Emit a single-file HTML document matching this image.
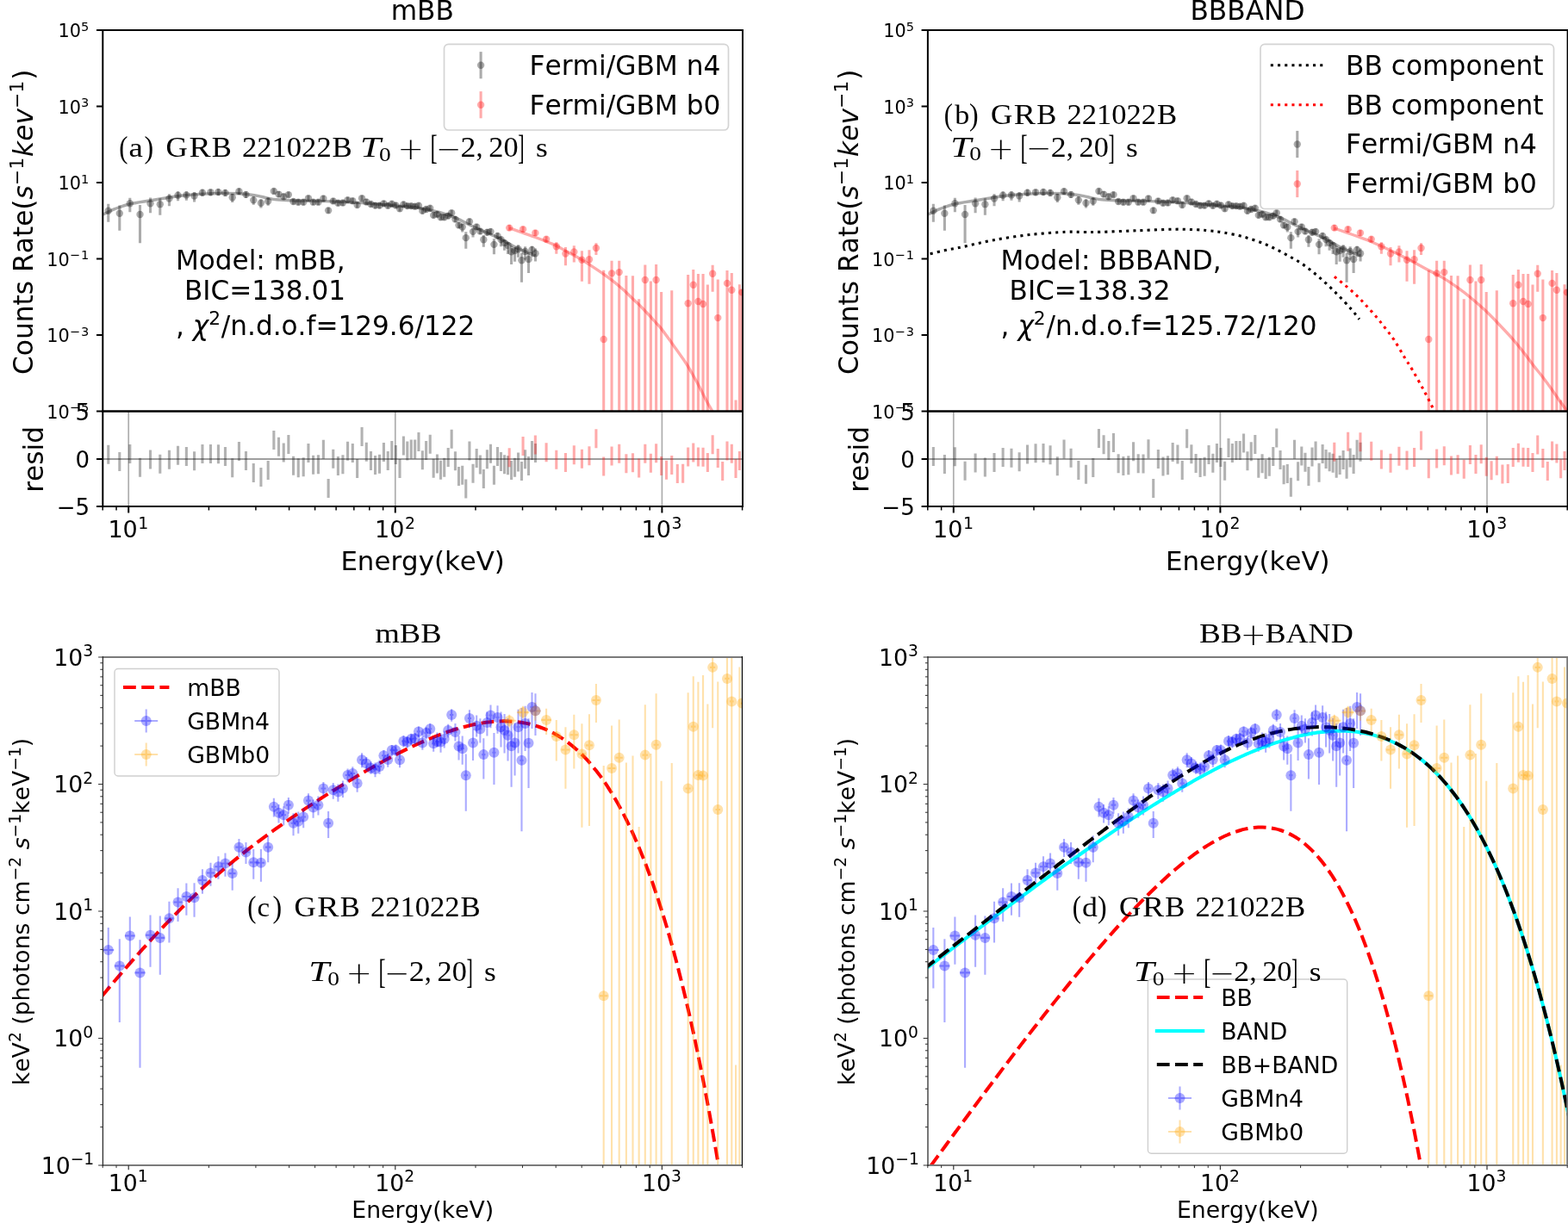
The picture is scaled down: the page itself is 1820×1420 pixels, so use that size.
<!DOCTYPE html>
<html lang="en"><head><meta charset="utf-8"><title>GRB 221022B spectral fits</title>
<style>html,body{margin:0;padding:0;background:#fff;overflow:hidden}svg{display:block}text{font-family:"DejaVu Sans","Liberation Sans",sans-serif;fill:#000;font-kerning:none}.sf text,text.sf{font-family:"Liberation Serif","DejaVu Serif",serif}</style>
</head><body>
<svg xmlns="http://www.w3.org/2000/svg" width="1820" height="1420" viewBox="0 0 1820 1420">
<rect width="1820" height="1420" fill="#fff"/>
<clipPath id="clipA"><rect x="119.3" y="35" width="742.7" height="442.5"/></clipPath>
<clipPath id="cliprA"><rect x="119.3" y="477.5" width="742.7" height="110.5"/></clipPath>
<g clip-path="url(#clipA)">
<path d="M119.7 248.9C121.97 247.85 128.25 244.58 133.3 242.6C138.35 240.62 143.05 238.63 150 237C156.95 235.37 167.35 234.08 175 232.8C182.65 231.52 188.93 230.35 195.9 229.3C202.87 228.25 209.83 227.2 216.8 226.5C223.77 225.8 230.73 225.45 237.7 225.1C244.67 224.75 251.98 224.45 258.6 224.4C265.22 224.35 272.17 224.53 277.4 224.8C282.63 225.07 286.18 225.53 290 226C293.82 226.47 296.97 226.97 300.3 227.6C303.63 228.23 306.52 229.1 310 229.8C313.48 230.5 316.55 231.3 321.2 231.8C325.85 232.3 328.35 232.5 337.9 232.8C347.45 233.1 364.77 233.13 378.5 233.6C392.23 234.07 406.38 234.68 420.3 235.6C434.22 236.52 451.22 238.17 462 239.1C472.78 240.03 477 239.97 485 241.2C493 242.43 502.63 244.52 510 246.5C517.37 248.48 523.3 250.65 529.2 253.1C535.1 255.55 539.23 258.25 545.4 261.2C551.57 264.15 560.43 268.18 566.2 270.8C571.97 273.42 574.88 274.33 580 276.9C585.12 279.47 591.52 283.5 596.9 286.2C602.28 288.9 608.2 291.32 612.3 293.1C616.4 294.88 619.97 296.27 621.5 296.9" stroke="#000" stroke-opacity="0.33" stroke-width="3.4" fill="none"/>
<path d="M591.2 264.6C593.85 265.57 602.07 268.58 607.1 270.4C612.13 272.22 616.9 273.83 621.4 275.5C625.9 277.17 630.03 278.75 634.1 280.4C638.17 282.05 642.08 283.6 645.8 285.4C649.52 287.2 652.98 289.35 656.4 291.2C659.82 293.05 663.13 294.75 666.3 296.5C669.47 298.25 672.45 299.93 675.4 301.7C678.35 303.47 679.78 304.33 684 307.1C688.22 309.87 696.37 315.3 700.7 318.3C705.03 321.3 707 322.78 710 325.1C713 327.42 715.88 329.82 718.7 332.2C721.52 334.58 724.27 336.92 726.9 339.4C729.53 341.88 732.03 344.73 734.5 347.1C736.97 349.47 739.32 351.27 741.7 353.6C744.08 355.93 746.52 358.7 748.8 361.1C751.08 363.5 753.27 365.67 755.4 368C757.53 370.33 759.57 372.83 761.6 375.1C763.63 377.37 764.58 377.75 767.6 381.6C770.62 385.45 775.52 392.37 779.7 398.2C783.88 404.03 789.55 412.05 792.7 416.6C795.85 421.15 796.58 422.22 798.6 425.5C800.62 428.78 802.83 432.82 804.8 436.3C806.77 439.78 808.52 442.82 810.4 446.4C812.28 449.98 814.27 454.2 816.1 457.8C817.93 461.4 819.7 464.87 821.4 468C823.1 471.13 824.87 473.93 826.3 476.6C827.73 479.27 829.38 482.77 830 484" stroke="#f00" stroke-opacity="0.33" stroke-width="3.4" fill="none"/>
<path d="M125.75 236.75V257.73M138.8 238.42V267.65M150.81 229.75V246.14M162.5 238.1V282.26M174.51 229.44V247.29M185.78 230.27V249.69M196.43 225.37V239.36M206.55 222.24V233.2M216.37 222.13V232.68M225.55 223.18V234.45M234.95 219.84V227.66M244.45 219.63V227.14M253.43 219.31V226.93M261.47 220.04V227.98M269.71 224.85V234.97M277.44 218.58V225.89M285.48 222.13V230.07M294.25 227.98V237.79M302.91 231.32V241.55M311.18 229.23V238.63M317.86 218.42V225.42M323.5 222.08V229.08M329.24 224.69V231.69M334.88 222.6V229.6M340.52 230.43V237.43M346.26 231.26V238.26M352.21 231.26V238.26M357.95 226.77V233.77M363.59 231.16V238.16M369.43 231.16V238.16M375.38 226.98V233.98M381.13 240.87V247.87M386.76 229.91V236.91M392.4 232.2V239.2M397.93 231.99V238.99M403.57 228.65V235.65M409.31 229.7V236.7M414.64 234.6V241.6M420.07 226.77V233.77M425.28 230.95V237.95M430.5 233.56V240.56M435.52 235.13V242.13M440.53 235.13V242.13M445.43 232.83V239.83M450.24 235.33V242.33M454.83 233.25V240.25M459.42 234.92V241.92M464.02 238.78V245.78M468.4 233.87V240.87M472.78 235.65V242.65M477.27 235.65V242.65M481.66 236.17V243.17M485.96 235.13V242.13M490.35 241.39V248.39M494.63 239.51V246.51M499.22 238.26V245.26M503.19 246.4V253.4M507.47 245.36V252.36M511.54 248.7V255.7M515.71 248.7V255.7M520.2 247.13V254.13M524.17 243.81V250.81M528.45 251.12V258.12M532.52 258.04V265.04M536.7 259.96V269.62M540.77 269.23V288.85M544.94 253.81V260.81M549.02 265.35V275.38M553.19 259.96V266.96M557.37 264.96V271.96M561.33 273.08V286.77M565.41 266.12V273.85M569.48 265.35V272.35M573.44 277.31V295.23M577.52 270.35V277.35M581.48 274.58V286.15M585.55 278.42V290.77M589.52 281.5V295M593.59 285.38V306.92M597.56 287.65V303.85M601.53 284.23V298.85M605.49 293.85V327.69M609.57 286.15V301.54M613.53 293.08V316.92M617.5 285.77V298.46M621.47 288.46V303.46" stroke="#000" stroke-opacity="0.33" stroke-width="3.1" fill="none"/>
<g fill="#000" fill-opacity="0.33"><circle cx="125.75" cy="244.68" r="4.2"/><circle cx="138.8" cy="247.71" r="4.2"/><circle cx="150.81" cy="236.23" r="4.2"/><circle cx="162.5" cy="249.07" r="4.2"/><circle cx="174.51" cy="236.33" r="4.2"/><circle cx="185.78" cy="237.16" r="4.2"/><circle cx="196.43" cy="230.59" r="4.2"/><circle cx="206.55" cy="226.73" r="4.2"/><circle cx="216.37" cy="226.41" r="4.2"/><circle cx="225.55" cy="227.46" r="4.2"/><circle cx="234.95" cy="223.8" r="4.2"/><circle cx="244.45" cy="223.28" r="4.2"/><circle cx="253.43" cy="223.07" r="4.2"/><circle cx="261.47" cy="223.91" r="4.2"/><circle cx="269.71" cy="229.23" r="4.2"/><circle cx="277.44" cy="222.13" r="4.2"/><circle cx="285.48" cy="225.89" r="4.2"/><circle cx="294.25" cy="232.36" r="4.2"/><circle cx="302.91" cy="235.7" r="4.2"/><circle cx="311.18" cy="233.62" r="4.2"/><circle cx="317.86" cy="221.92" r="4.2"/><circle cx="323.5" cy="225.58" r="4.2"/><circle cx="329.24" cy="228.19" r="4.2"/><circle cx="334.88" cy="226.1" r="4.2"/><circle cx="340.52" cy="233.93" r="4.2"/><circle cx="346.26" cy="234.76" r="4.2"/><circle cx="352.21" cy="234.76" r="4.2"/><circle cx="357.95" cy="230.27" r="4.2"/><circle cx="363.59" cy="234.66" r="4.2"/><circle cx="369.43" cy="234.66" r="4.2"/><circle cx="375.38" cy="230.48" r="4.2"/><circle cx="381.13" cy="244.37" r="4.2"/><circle cx="386.76" cy="233.41" r="4.2"/><circle cx="392.4" cy="235.7" r="4.2"/><circle cx="397.93" cy="235.49" r="4.2"/><circle cx="403.57" cy="232.15" r="4.2"/><circle cx="409.31" cy="233.2" r="4.2"/><circle cx="414.64" cy="238.1" r="4.2"/><circle cx="420.07" cy="230.27" r="4.2"/><circle cx="425.28" cy="234.45" r="4.2"/><circle cx="430.5" cy="237.06" r="4.2"/><circle cx="435.52" cy="238.63" r="4.2"/><circle cx="440.53" cy="238.63" r="4.2"/><circle cx="445.43" cy="236.33" r="4.2"/><circle cx="450.24" cy="238.83" r="4.2"/><circle cx="454.83" cy="236.75" r="4.2"/><circle cx="459.42" cy="238.42" r="4.2"/><circle cx="464.02" cy="242.28" r="4.2"/><circle cx="468.4" cy="237.37" r="4.2"/><circle cx="472.78" cy="239.15" r="4.2"/><circle cx="477.27" cy="239.15" r="4.2"/><circle cx="481.66" cy="239.67" r="4.2"/><circle cx="485.96" cy="238.63" r="4.2"/><circle cx="490.35" cy="244.89" r="4.2"/><circle cx="494.63" cy="243.01" r="4.2"/><circle cx="499.22" cy="241.76" r="4.2"/><circle cx="503.19" cy="249.9" r="4.2"/><circle cx="507.47" cy="248.86" r="4.2"/><circle cx="511.54" cy="252.2" r="4.2"/><circle cx="515.71" cy="252.2" r="4.2"/><circle cx="520.2" cy="250.63" r="4.2"/><circle cx="524.17" cy="247.31" r="4.2"/><circle cx="528.45" cy="254.62" r="4.2"/><circle cx="532.52" cy="261.54" r="4.2"/><circle cx="536.7" cy="263.46" r="4.2"/><circle cx="540.77" cy="276.15" r="4.2"/><circle cx="544.94" cy="257.31" r="4.2"/><circle cx="549.02" cy="268.85" r="4.2"/><circle cx="553.19" cy="263.46" r="4.2"/><circle cx="557.37" cy="268.46" r="4.2"/><circle cx="561.33" cy="278.23" r="4.2"/><circle cx="565.41" cy="269.62" r="4.2"/><circle cx="569.48" cy="268.85" r="4.2"/><circle cx="573.44" cy="283.85" r="4.2"/><circle cx="577.52" cy="273.85" r="4.2"/><circle cx="581.48" cy="278.08" r="4.2"/><circle cx="585.55" cy="281.92" r="4.2"/><circle cx="589.52" cy="285" r="4.2"/><circle cx="593.59" cy="292.31" r="4.2"/><circle cx="597.56" cy="291.15" r="4.2"/><circle cx="601.53" cy="289.23" r="4.2"/><circle cx="605.49" cy="302.31" r="4.2"/><circle cx="609.57" cy="291.92" r="4.2"/><circle cx="613.53" cy="301.15" r="4.2"/><circle cx="617.5" cy="290" r="4.2"/><circle cx="621.47" cy="294.23" r="4.2"/></g>
<path d="M591.19 261.12V268.12M607.06 262.65V269.65M621.36 266.88V273.88M634.1 274.19V281.19M645.79 281.13V294.73M656.44 286.9V308.33M666.31 285.25V304.45M675.42 291.18V326.87M683.96 290.36V329.75M691.92 282.36V295.96M700.69 313.69V477.5M710.04 302.79V477.5M718.69 302.79V477.5M726.88 320.03V477.5M734.5 320.28V477.5M741.65 347.28V477.5M748.8 307.61V477.5M755.38 326.62V477.5M761.61 306.97V477.5M767.61 339.04V477.5M779.73 337.14V477.5M798.65 319.01V477.5M804.76 312.93V477.5M810.42 318V477.5M816.07 318V477.5M821.38 330.42V477.5M827.15 307.86V338.66M833.26 324.46V477.5M843.99 313.94V477.5M849.3 317.11V477.5M854.03 464.41V477.5M858.42 330.2V477.5M861.3 336V477.5" stroke="#f00" stroke-opacity="0.33" stroke-width="3.1" fill="none"/>
<g fill="#f00" fill-opacity="0.33"><circle cx="591.19" cy="264.62" r="4.2"/><circle cx="607.06" cy="266.15" r="4.2"/><circle cx="621.36" cy="270.38" r="4.2"/><circle cx="634.1" cy="277.69" r="4.2"/><circle cx="645.79" cy="286.24" r="4.2"/><circle cx="656.44" cy="294.48" r="4.2"/><circle cx="666.31" cy="292.42" r="4.2"/><circle cx="675.42" cy="301.73" r="4.2"/><circle cx="683.96" cy="301.32" r="4.2"/><circle cx="691.92" cy="287.97" r="4.2"/><circle cx="700.69" cy="394.06" r="4.2"/><circle cx="710.04" cy="317.37" r="4.2"/><circle cx="718.69" cy="316.1" r="4.2"/><circle cx="748.8" cy="324.97" r="4.2"/><circle cx="761.61" cy="324.97" r="4.2"/><circle cx="798.65" cy="352.22" r="4.2"/><circle cx="804.76" cy="330.68" r="4.2"/><circle cx="810.42" cy="350.07" r="4.2"/><circle cx="816.07" cy="352.99" r="4.2"/><circle cx="827.15" cy="317.75" r="4.2"/><circle cx="833.26" cy="369.08" r="4.2"/><circle cx="843.99" cy="328.9" r="4.2"/><circle cx="849.3" cy="336.76" r="4.2"/><circle cx="861.3" cy="339.4" r="4.2"/></g>
</g>
<g clip-path="url(#cliprA)">
<path d="M149.2 477.5V588" stroke="#000" stroke-opacity="0.32" stroke-width="1.7"/>
<path d="M458.8 477.5V588" stroke="#000" stroke-opacity="0.32" stroke-width="1.7"/>
<path d="M768.4 477.5V588" stroke="#000" stroke-opacity="0.32" stroke-width="1.7"/>
<path d="M119.3 533H862" stroke="#000" stroke-opacity="0.5" stroke-width="1.7"/>
<path d="M125.75 516.69v22M138.8 524.94v22M150.81 515.96v22M162.5 531.72v22M174.51 522.43v22M185.78 527.76v22M196.43 522.75v22M206.55 517.74v22M216.37 518.99v22M225.55 524.16v22M234.95 516.12v22M244.45 515.96v22M253.43 516.27v22M261.47 518.94v22M269.71 532.35v22M277.44 513.09v22M285.48 523.95v22M294.25 537.99v22M302.91 542.95v22M311.18 534.96v22M317.86 499.88v22M323.5 507.71v22M329.24 514.45v22M334.88 505.1v22M340.52 529.69v22M346.26 532.25v22M352.21 531.2v22M357.95 515.02v22M363.59 528.7v22M369.43 528.28v22M375.38 510.64v22M381.13 556.05v22M386.76 521.7v22M392.4 529.95v22M397.93 528.28v22M403.57 512.83v22M409.31 514.92v22M414.64 533.08v22M420.07 496.07v22M425.28 513.72v22M430.5 524v22M435.52 529.01v22M440.53 527.76v22M445.43 514.03v22M450.24 524v22M454.83 511.89v22M459.42 517.11v22M464.02 533.08v22M468.4 506.51v22M472.78 512.62v22M477.27 510.48v22M481.66 510.48v22M485.96 502.08v22M490.35 523.22v22M494.63 512.1v22M499.22 504.69v22M503.19 532.77v22M507.47 527.39v22M511.54 534.86v22M515.71 531.72v22M520.2 520.08v22M524.17 498.84v22M528.45 524.21v22M532.52 541.9v22M536.7 540.7v22M540.77 556.52v22M544.94 512.57v22M549.02 538.67v22M553.19 521.08v22M557.37 528.54v22M561.33 545.04v22M565.41 522.33v22M569.48 515.65v22M573.44 540.7v22M577.52 518.88v22M581.48 524.99v22M585.55 528.28v22M589.52 529.27v22M593.59 534.91v22M597.56 531.72v22M601.53 525.41v22M605.49 536.06v22M609.57 522.33v22M613.53 529.9v22M617.5 512.1v22M621.47 514.92v22" stroke="#000" stroke-opacity="0.3" stroke-width="3.1" fill="none"/>
<path d="M591.19 520.19v22M607.06 506.98v22M621.36 505.52v22M634.1 514.29v22M645.79 522.69v22M656.44 525.93v22M666.31 517.31v22M675.42 521.63v22M683.96 518.23v22M691.92 498.27v22M700.69 530.4v22M710.04 518.57v22M718.69 515.63v22M726.88 527.34v22M734.5 526.25v22M741.65 532.48v22M748.8 515.63v22M755.38 526.82v22M761.61 515.29v22M767.61 530v22M773.5 534.79v22M779.73 529.02v22M786.3 539.11v22M792.65 538.65v22M798.65 519.61v22M804.76 514.54v22M810.42 519.44v22M816.07 519.84v22M821.38 525.96v22M827.15 505.31v22M833.26 520.88v22M838.69 535.88v22M843.99 512.4v22M849.3 515.63v22M854.03 533v22M858.42 523.88v22" stroke="#f00" stroke-opacity="0.33" stroke-width="3.1" fill="none"/>
</g>
<g stroke="#000" stroke-width="2.0" fill="none" stroke-linecap="square">
<rect x="119.3" y="35" width="742.7" height="442.5"/>
<rect x="119.3" y="477.5" width="742.7" height="110.5"/>
</g>
<path d="M119.3 35h-7.3M119.3 123.5h-7.3M119.3 212h-7.3M119.3 300.5h-7.3M119.3 389h-7.3M119.3 477.5h-7.3M119.3 533h-7.3M119.3 588h-7.3M149.2 588v7.6M458.8 588v7.6M768.4 588v7.6" stroke="#000" stroke-width="2.0" fill="none"/>
<path d="M119.2 588v4.6M135.03 588v4.6M242.4 588v4.6M296.92 588v4.6M335.6 588v4.6M365.6 588v4.6M390.12 588v4.6M410.84 588v4.6M428.8 588v4.6M444.63 588v4.6M552 588v4.6M606.52 588v4.6M645.2 588v4.6M675.2 588v4.6M699.72 588v4.6M720.44 588v4.6M738.4 588v4.6M754.23 588v4.6M861.6 588v4.6" stroke="#000" stroke-width="1.5" fill="none"/>
<g class="sn">
<text x="103.3" y="43.4" font-size="20.8" text-anchor="end">10<tspan font-size="14.56" dy="-7.9" dx="0">5</tspan></text>
<text x="103.3" y="131.9" font-size="20.8" text-anchor="end">10<tspan font-size="14.56" dy="-7.9" dx="0">3</tspan></text>
<text x="103.3" y="220.4" font-size="20.8" text-anchor="end">10<tspan font-size="14.56" dy="-7.9" dx="0">1</tspan></text>
<text x="103.3" y="308.9" font-size="20.8" text-anchor="end">10<tspan font-size="14.56" dy="-7.9" dx="0">−<tspan dx="1.04">1</tspan></tspan></text>
<text x="103.3" y="397.4" font-size="20.8" text-anchor="end">10<tspan font-size="14.56" dy="-7.9" dx="0">−<tspan dx="1.04">3</tspan></tspan></text>
<text x="103.3" y="485.9" font-size="20.8" text-anchor="end">10<tspan font-size="14.56" dy="-7.9" dx="0">−<tspan dx="1.04">5</tspan></tspan></text>
<text x="104.1" y="487.7" font-size="26" text-anchor="end">5</text>
<text x="104.1" y="543.2" font-size="26" text-anchor="end">0</text>
<text x="104.1" y="598.2" font-size="26" text-anchor="end">−5</text>
<text x="148.9" y="624.1" font-size="27" text-anchor="middle">10<tspan font-size="18.9" dy="-10.39" dx="0.6">1</tspan></text>
<text x="458.5" y="624.1" font-size="27" text-anchor="middle">10<tspan font-size="18.9" dy="-10.39" dx="0.6">2</tspan></text>
<text x="768.1" y="624.1" font-size="27" text-anchor="middle">10<tspan font-size="18.9" dy="-10.39" dx="0.6">3</tspan></text>
<text x="490.65" y="662" font-size="30.85" text-anchor="middle">Energy(keV)</text>
<text x="490.35" y="22.8" font-size="31.25" text-anchor="middle">mBB</text>
<text transform="translate(38.4 257.8) rotate(-90)" font-size="31.25" text-anchor="middle">Counts Rate(<tspan font-style="italic">s</tspan><tspan font-size="21.88" dy="-11.88">−1</tspan><tspan font-style="italic" dy="11.88" dx="1">kev</tspan><tspan font-size="21.88" dy="-11.88">−1</tspan><tspan dy="11.88" dx="1">)</tspan></text>
<text transform="translate(50.2 533.4) rotate(-90)" font-size="31.25" text-anchor="middle">resid</text>
<text x="204" y="313" font-size="31.1">Model: mBB,</text>
<text x="214" y="348" font-size="31.1">BIC=138.01</text>
<text x="204" y="389" font-size="31.1">, <tspan font-style="italic">χ</tspan><tspan font-size="21.77" dy="-11.82">2</tspan><tspan dy="11.82" dx="0.8">/n.d.o.f=129.6/122</tspan></text>
</g>
<text class="sf" transform="translate(138.34 182.6) scale(0.8377 1)" font-size="36.5">(</text>
<text class="sf" transform="translate(149.55 182.1) scale(1.1538 1)" font-size="32">a</text>
<text class="sf" transform="translate(167.6 182.6) scale(0.8767 1)" font-size="36.5">)</text>
<text class="sf" transform="translate(192.51 182.1) scale(1.0109 1)" font-size="34.6">G</text>
<text class="sf" transform="translate(219.41 182.1) scale(1.0922 1)" font-size="34.6">R</text>
<text class="sf" transform="translate(245.86 182.1) scale(1.0007 1)" font-size="34.6">B</text>
<text class="sf" transform="translate(281.02 182.1) scale(1.0349 1)" font-size="33.4">221022</text>
<text class="sf" transform="translate(385.56 182.1) scale(1.0055 1)" font-size="34.6">B</text>
<text class="sf" transform="translate(418 182.1) scale(1.2486 1)" font-size="34.6" font-style="italic">T</text>
<text class="sf" transform="translate(440.04 186.7) scale(1.1732 1)" font-size="23.38">0</text>
<text class="sn" transform="translate(461.39 185.1) scale(1.0159 1)" font-size="35.8" font-weight="200">+</text>
<text class="sf" transform="translate(499.38 184.9) scale(0.5990 1)" font-size="40.6">[</text>
<text class="sn" transform="translate(505.91 184.8) scale(0.9811 1)" font-size="35.8" font-weight="200">−</text>
<text class="sf" transform="translate(534.48 182.1) scale(1.0716 1)" font-size="33.4">2</text>
<text class="sf" transform="translate(552.6 182.1) scale(0.9249 1)" font-size="34.6">,</text>
<text class="sf" transform="translate(567.33 182.1) scale(1.0251 1)" font-size="33.4">20</text>
<text class="sf" transform="translate(601.21 184.9) scale(0.5465 1)" font-size="40.6">]</text>
<text class="sf" transform="translate(621.9 182.1) scale(1.1048 1)" font-size="32">s</text>
<rect x="515.5" y="51.3" width="330" height="99.7" rx="5" ry="5" fill="#fff" fill-opacity="0.8" stroke="#d4d4d4" stroke-width="1.7"/>
<path d="M558.1 60.1V91.3" stroke="#000" stroke-opacity="0.33" stroke-width="3.1"/>
<circle cx="558.1" cy="75.7" r="4.2" fill="#000" fill-opacity="0.33"/>
<text x="614.5" y="86.5" font-size="31.25" class="sn">Fermi/GBM n4</text>
<path d="M558.1 106.1V137.3" stroke="#f00" stroke-opacity="0.33" stroke-width="3.1"/>
<circle cx="558.1" cy="121.7" r="4.2" fill="#f00" fill-opacity="0.33"/>
<text x="614.5" y="132.5" font-size="31.25" class="sn">Fermi/GBM b0</text>
<clipPath id="clipB"><rect x="1076.9" y="35" width="742.7" height="442.5"/></clipPath>
<clipPath id="cliprB"><rect x="1076.9" y="477.5" width="742.7" height="110.5"/></clipPath>
<g clip-path="url(#clipB)">
<path d="M1077.3 248.9C1079.57 247.85 1085.85 244.58 1090.9 242.6C1095.95 240.62 1100.65 238.63 1107.6 237C1114.55 235.37 1124.95 234.08 1132.6 232.8C1140.25 231.52 1146.53 230.35 1153.5 229.3C1160.47 228.25 1167.43 227.2 1174.4 226.5C1181.37 225.8 1188.33 225.45 1195.3 225.1C1202.27 224.75 1209.58 224.45 1216.2 224.4C1222.82 224.35 1229.77 224.53 1235 224.8C1240.23 225.07 1243.78 225.53 1247.6 226C1251.42 226.47 1254.57 226.97 1257.9 227.6C1261.23 228.23 1264.12 229.1 1267.6 229.8C1271.08 230.5 1274.15 231.3 1278.8 231.8C1283.45 232.3 1285.95 232.5 1295.5 232.8C1305.05 233.1 1322.37 233.13 1336.1 233.6C1349.83 234.07 1363.98 234.68 1377.9 235.6C1391.82 236.52 1408.82 238.17 1419.6 239.1C1430.38 240.03 1434.6 239.97 1442.6 241.2C1450.6 242.43 1460.23 244.52 1467.6 246.5C1474.97 248.48 1480.9 250.65 1486.8 253.1C1492.7 255.55 1496.83 258.25 1503 261.2C1509.17 264.15 1518.03 268.18 1523.8 270.8C1529.57 273.42 1532.48 274.33 1537.6 276.9C1542.72 279.47 1549.12 283.5 1554.5 286.2C1559.88 288.9 1565.8 291.32 1569.9 293.1C1574 294.88 1577.57 296.27 1579.1 296.9" stroke="#000" stroke-opacity="0.33" stroke-width="3.4" fill="none"/>
<path d="M1548.8 265C1552.33 266.25 1563.13 270 1570 272.5C1576.87 275 1582.5 276.87 1590 280C1597.5 283.13 1606.67 287.3 1615 291.3C1623.33 295.3 1632.72 300.2 1640 304C1647.28 307.8 1652.68 310.87 1658.7 314.1C1664.72 317.33 1670.52 320.05 1676.1 323.4C1681.68 326.75 1687.07 330.52 1692.2 334.2C1697.33 337.88 1701.77 341.27 1706.9 345.5C1712.03 349.73 1717.87 354.8 1723 359.6C1728.13 364.4 1732.13 368.5 1737.7 374.3C1743.27 380.1 1751.28 388.6 1756.4 394.4C1761.52 400.2 1764.38 403.98 1768.4 409.1C1772.42 414.22 1776.7 420.2 1780.5 425.1C1784.3 430 1787.63 433.82 1791.2 438.5C1794.77 443.18 1798.33 448.18 1801.9 453.2C1805.47 458.22 1809.82 464.7 1812.6 468.6C1815.38 472.5 1817.03 474.53 1818.6 476.6C1820.17 478.67 1821.43 480.27 1822 481" stroke="#f00" stroke-opacity="0.33" stroke-width="3.4" fill="none"/>
<path d="M1083.35 236.75V257.73M1096.4 238.42V267.65M1108.41 229.75V246.14M1120.1 238.1V282.26M1132.11 229.44V247.29M1143.38 230.27V249.69M1154.03 225.37V239.36M1164.15 222.24V233.2M1173.97 222.13V232.68M1183.15 223.18V234.45M1192.55 219.84V227.66M1202.05 219.63V227.14M1211.03 219.31V226.93M1219.07 220.04V227.98M1227.31 224.85V234.97M1235.04 218.58V225.89M1243.08 222.13V230.07M1251.85 227.98V237.79M1260.51 231.32V241.55M1268.78 229.23V238.63M1275.46 218.42V225.42M1281.1 222.08V229.08M1286.84 224.69V231.69M1292.48 222.6V229.6M1298.12 230.43V237.43M1303.86 231.26V238.26M1309.81 231.26V238.26M1315.55 226.77V233.77M1321.19 231.16V238.16M1327.03 231.16V238.16M1332.98 226.98V233.98M1338.73 240.87V247.87M1344.36 229.91V236.91M1350 232.2V239.2M1355.53 231.99V238.99M1361.17 228.65V235.65M1366.91 229.7V236.7M1372.24 234.6V241.6M1377.67 226.77V233.77M1382.88 230.95V237.95M1388.1 233.56V240.56M1393.12 235.13V242.13M1398.13 235.13V242.13M1403.03 232.83V239.83M1407.84 235.33V242.33M1412.43 233.25V240.25M1417.02 234.92V241.92M1421.62 238.78V245.78M1426 233.87V240.87M1430.38 235.65V242.65M1434.87 235.65V242.65M1439.26 236.17V243.17M1443.56 235.13V242.13M1447.95 241.39V248.39M1452.23 239.51V246.51M1456.82 238.26V245.26M1460.79 246.4V253.4M1465.07 245.36V252.36M1469.14 248.7V255.7M1473.31 248.7V255.7M1477.8 247.13V254.13M1481.77 243.81V250.81M1486.05 251.12V258.12M1490.12 258.04V265.04M1494.3 259.96V269.62M1498.37 269.23V288.85M1502.54 253.81V260.81M1506.62 265.35V275.38M1510.79 259.96V266.96M1514.97 264.96V271.96M1518.93 273.08V286.77M1523.01 266.12V273.85M1527.08 265.35V272.35M1531.04 277.31V295.23M1535.12 270.35V277.35M1539.08 274.58V286.15M1543.15 278.42V290.77M1547.12 281.5V295M1551.19 285.38V306.92M1555.16 287.65V303.85M1559.13 284.23V298.85M1563.09 293.85V327.69M1567.17 286.15V301.54M1571.13 293.08V316.92M1575.1 285.77V298.46M1579.07 288.46V303.46" stroke="#000" stroke-opacity="0.33" stroke-width="3.1" fill="none"/>
<g fill="#000" fill-opacity="0.33"><circle cx="1083.35" cy="244.68" r="4.2"/><circle cx="1096.4" cy="247.71" r="4.2"/><circle cx="1108.41" cy="236.23" r="4.2"/><circle cx="1120.1" cy="249.07" r="4.2"/><circle cx="1132.11" cy="236.33" r="4.2"/><circle cx="1143.38" cy="237.16" r="4.2"/><circle cx="1154.03" cy="230.59" r="4.2"/><circle cx="1164.15" cy="226.73" r="4.2"/><circle cx="1173.97" cy="226.41" r="4.2"/><circle cx="1183.15" cy="227.46" r="4.2"/><circle cx="1192.55" cy="223.8" r="4.2"/><circle cx="1202.05" cy="223.28" r="4.2"/><circle cx="1211.03" cy="223.07" r="4.2"/><circle cx="1219.07" cy="223.91" r="4.2"/><circle cx="1227.31" cy="229.23" r="4.2"/><circle cx="1235.04" cy="222.13" r="4.2"/><circle cx="1243.08" cy="225.89" r="4.2"/><circle cx="1251.85" cy="232.36" r="4.2"/><circle cx="1260.51" cy="235.7" r="4.2"/><circle cx="1268.78" cy="233.62" r="4.2"/><circle cx="1275.46" cy="221.92" r="4.2"/><circle cx="1281.1" cy="225.58" r="4.2"/><circle cx="1286.84" cy="228.19" r="4.2"/><circle cx="1292.48" cy="226.1" r="4.2"/><circle cx="1298.12" cy="233.93" r="4.2"/><circle cx="1303.86" cy="234.76" r="4.2"/><circle cx="1309.81" cy="234.76" r="4.2"/><circle cx="1315.55" cy="230.27" r="4.2"/><circle cx="1321.19" cy="234.66" r="4.2"/><circle cx="1327.03" cy="234.66" r="4.2"/><circle cx="1332.98" cy="230.48" r="4.2"/><circle cx="1338.73" cy="244.37" r="4.2"/><circle cx="1344.36" cy="233.41" r="4.2"/><circle cx="1350" cy="235.7" r="4.2"/><circle cx="1355.53" cy="235.49" r="4.2"/><circle cx="1361.17" cy="232.15" r="4.2"/><circle cx="1366.91" cy="233.2" r="4.2"/><circle cx="1372.24" cy="238.1" r="4.2"/><circle cx="1377.67" cy="230.27" r="4.2"/><circle cx="1382.88" cy="234.45" r="4.2"/><circle cx="1388.1" cy="237.06" r="4.2"/><circle cx="1393.12" cy="238.63" r="4.2"/><circle cx="1398.13" cy="238.63" r="4.2"/><circle cx="1403.03" cy="236.33" r="4.2"/><circle cx="1407.84" cy="238.83" r="4.2"/><circle cx="1412.43" cy="236.75" r="4.2"/><circle cx="1417.02" cy="238.42" r="4.2"/><circle cx="1421.62" cy="242.28" r="4.2"/><circle cx="1426" cy="237.37" r="4.2"/><circle cx="1430.38" cy="239.15" r="4.2"/><circle cx="1434.87" cy="239.15" r="4.2"/><circle cx="1439.26" cy="239.67" r="4.2"/><circle cx="1443.56" cy="238.63" r="4.2"/><circle cx="1447.95" cy="244.89" r="4.2"/><circle cx="1452.23" cy="243.01" r="4.2"/><circle cx="1456.82" cy="241.76" r="4.2"/><circle cx="1460.79" cy="249.9" r="4.2"/><circle cx="1465.07" cy="248.86" r="4.2"/><circle cx="1469.14" cy="252.2" r="4.2"/><circle cx="1473.31" cy="252.2" r="4.2"/><circle cx="1477.8" cy="250.63" r="4.2"/><circle cx="1481.77" cy="247.31" r="4.2"/><circle cx="1486.05" cy="254.62" r="4.2"/><circle cx="1490.12" cy="261.54" r="4.2"/><circle cx="1494.3" cy="263.46" r="4.2"/><circle cx="1498.37" cy="276.15" r="4.2"/><circle cx="1502.54" cy="257.31" r="4.2"/><circle cx="1506.62" cy="268.85" r="4.2"/><circle cx="1510.79" cy="263.46" r="4.2"/><circle cx="1514.97" cy="268.46" r="4.2"/><circle cx="1518.93" cy="278.23" r="4.2"/><circle cx="1523.01" cy="269.62" r="4.2"/><circle cx="1527.08" cy="268.85" r="4.2"/><circle cx="1531.04" cy="283.85" r="4.2"/><circle cx="1535.12" cy="273.85" r="4.2"/><circle cx="1539.08" cy="278.08" r="4.2"/><circle cx="1543.15" cy="281.92" r="4.2"/><circle cx="1547.12" cy="285" r="4.2"/><circle cx="1551.19" cy="292.31" r="4.2"/><circle cx="1555.16" cy="291.15" r="4.2"/><circle cx="1559.13" cy="289.23" r="4.2"/><circle cx="1563.09" cy="302.31" r="4.2"/><circle cx="1567.17" cy="291.92" r="4.2"/><circle cx="1571.13" cy="301.15" r="4.2"/><circle cx="1575.1" cy="290" r="4.2"/><circle cx="1579.07" cy="294.23" r="4.2"/></g>
<path d="M1548.79 261.12V268.12M1564.66 262.65V269.65M1578.96 266.88V273.88M1591.7 274.19V281.19M1603.39 281.13V294.73M1614.04 286.9V308.33M1623.91 285.25V304.45M1633.02 291.18V326.87M1641.56 290.36V329.75M1649.52 282.36V295.96M1658.29 313.69V477.5M1667.64 302.79V477.5M1676.29 302.79V477.5M1684.48 320.03V477.5M1692.1 320.28V477.5M1699.25 347.28V477.5M1706.4 307.61V477.5M1712.98 326.62V477.5M1719.21 306.97V477.5M1725.21 339.04V477.5M1737.33 337.14V477.5M1756.25 319.01V477.5M1762.36 312.93V477.5M1768.02 318V477.5M1773.67 318V477.5M1778.98 330.42V477.5M1784.75 307.86V338.66M1790.86 324.46V477.5M1801.59 313.94V477.5M1806.9 317.11V477.5M1811.63 464.41V477.5M1816.02 330.2V477.5M1818.9 336V477.5" stroke="#f00" stroke-opacity="0.33" stroke-width="3.1" fill="none"/>
<g fill="#f00" fill-opacity="0.33"><circle cx="1548.79" cy="264.62" r="4.2"/><circle cx="1564.66" cy="266.15" r="4.2"/><circle cx="1578.96" cy="270.38" r="4.2"/><circle cx="1591.7" cy="277.69" r="4.2"/><circle cx="1603.39" cy="286.24" r="4.2"/><circle cx="1614.04" cy="294.48" r="4.2"/><circle cx="1623.91" cy="292.42" r="4.2"/><circle cx="1633.02" cy="301.73" r="4.2"/><circle cx="1641.56" cy="301.32" r="4.2"/><circle cx="1649.52" cy="287.97" r="4.2"/><circle cx="1658.29" cy="394.06" r="4.2"/><circle cx="1667.64" cy="317.37" r="4.2"/><circle cx="1676.29" cy="316.1" r="4.2"/><circle cx="1706.4" cy="324.97" r="4.2"/><circle cx="1719.21" cy="324.97" r="4.2"/><circle cx="1756.25" cy="352.22" r="4.2"/><circle cx="1762.36" cy="330.68" r="4.2"/><circle cx="1768.02" cy="350.07" r="4.2"/><circle cx="1773.67" cy="352.99" r="4.2"/><circle cx="1784.75" cy="317.75" r="4.2"/><circle cx="1790.86" cy="369.08" r="4.2"/><circle cx="1801.59" cy="328.9" r="4.2"/><circle cx="1806.9" cy="336.76" r="4.2"/><circle cx="1818.9" cy="339.4" r="4.2"/></g>
<path d="M1077.3 295.4C1080.6 294.6 1090.32 292.08 1097.1 290.6C1103.88 289.12 1108.6 288.48 1118 286.5C1127.4 284.52 1140.62 281.03 1153.5 278.7C1166.38 276.37 1181.38 274.07 1195.3 272.5C1209.22 270.93 1226.55 269.8 1237 269.3C1247.45 268.8 1251.03 269.5 1258 269.5C1264.97 269.5 1268.38 269.6 1278.8 269.3C1289.22 269 1306.58 268.22 1320.5 267.7C1334.42 267.18 1350.72 266.35 1362.3 266.2C1373.88 266.05 1383.03 266.52 1390 266.8C1396.97 267.08 1399.1 267.37 1404.1 267.9C1409.1 268.43 1413.35 268.8 1420 270C1426.65 271.2 1435.72 272.77 1444 275.1C1452.28 277.43 1461.68 280.65 1469.7 284C1477.72 287.35 1484.85 291.27 1492.1 295.2C1499.35 299.13 1506.5 302.98 1513.2 307.6C1519.9 312.22 1526.03 317.45 1532.3 322.9C1538.57 328.35 1544.87 334.38 1550.8 340.3C1556.73 346.22 1563.4 353.33 1567.9 358.4C1572.4 363.47 1576.15 368.65 1577.8 370.7" stroke="#000" stroke-width="3.1" stroke-dasharray="3.1 5.1" stroke-dashoffset="-2.6" fill="none"/>
<path d="M1548.9 321.2C1551.18 323.07 1558.22 328.67 1562.6 332.4C1566.98 336.13 1571.23 339.75 1575.2 343.6C1579.17 347.45 1582.67 351.43 1586.4 355.5C1590.13 359.57 1594.08 363.83 1597.6 368C1601.12 372.17 1604.1 376.1 1607.5 380.5C1610.9 384.9 1614.25 388.73 1618 394.4C1621.75 400.07 1626.33 408.48 1630 414.5C1633.67 420.52 1636.25 424.08 1640 430.5C1643.75 436.92 1648.75 446 1652.5 453C1656.25 460 1660.37 468.25 1662.5 472.5C1664.63 476.75 1664.83 477.5 1665.3 478.5" stroke="#f00" stroke-width="3.1" stroke-dasharray="3.1 5.1" stroke-dashoffset="0" fill="none"/>
</g>
<g clip-path="url(#cliprB)">
<path d="M1106.8 477.5V588" stroke="#000" stroke-opacity="0.32" stroke-width="1.7"/>
<path d="M1416.4 477.5V588" stroke="#000" stroke-opacity="0.32" stroke-width="1.7"/>
<path d="M1726 477.5V588" stroke="#000" stroke-opacity="0.32" stroke-width="1.7"/>
<path d="M1076.9 533H1819.6" stroke="#000" stroke-opacity="0.5" stroke-width="1.7"/>
<path d="M1083.35 519.09v22M1096.4 528.07v22M1108.41 519.2v22M1120.1 535.8v22M1132.11 526.51v22M1143.38 531.41v22M1154.03 525.88v22M1164.15 520.03v22M1173.97 520.66v22M1183.15 525.2v22M1192.55 516.48v22M1202.05 515.28v22M1211.03 515.07v22M1219.07 517.21v22M1227.31 530.26v22M1235.04 510.48v22M1243.08 520.87v22M1251.85 534.96v22M1260.51 539.76v22M1268.78 531.99v22M1275.46 497.9v22M1281.1 505.21v22M1286.84 512.05v22M1292.48 503.02v22M1298.12 527.29v22M1303.86 529.95v22M1309.81 529.22v22M1315.55 513.35v22M1321.19 527.29v22M1327.03 527.5v22M1332.98 510.32v22M1338.73 556.05v22M1344.36 522.02v22M1350 530.58v22M1355.53 529.27v22M1361.17 514.08v22M1366.91 516.43v22M1372.24 535.12v22M1377.67 498.27v22M1382.88 516.27v22M1388.1 527.03v22M1393.12 531.99v22M1398.13 530.79v22M1403.03 516.95v22M1407.84 526.87v22M1412.43 514.97v22M1417.02 519.98v22M1421.62 535.8v22M1426 508.97v22M1430.38 515.02v22M1434.87 512.05v22M1439.26 512.05v22M1443.56 503.54v22M1447.95 524.31v22M1452.23 513.19v22M1456.82 505.1v22M1460.79 532.77v22M1465.07 527.13v22M1469.14 534.02v22M1473.31 530.84v22M1477.8 518.99v22M1481.77 497.54v22M1486.05 522.96v22M1490.12 540.18v22M1494.3 539.03v22M1498.37 554.69v22M1502.54 510.74v22M1506.62 536.16v22M1510.79 518.57v22M1514.97 525.67v22M1518.93 542.01v22M1523.01 519.41v22M1527.08 512.62v22M1531.04 537.83v22M1535.12 516.12v22M1539.08 522.02v22M1543.15 525.36v22M1547.12 526.66v22M1551.19 532.77v22M1555.16 529.01v22M1559.13 522.96v22M1563.09 533.66v22M1567.17 520.4v22M1571.13 527.97v22M1575.1 510.74v22M1579.07 513.66v22" stroke="#000" stroke-opacity="0.3" stroke-width="3.1" fill="none"/>
<path d="M1548.79 513.72v22M1564.66 501.66v22M1578.96 502.23v22M1591.7 512.67v22M1603.39 522.43v22M1614.04 526.66v22M1623.91 518.69v22M1633.02 523.59v22M1641.56 520.12v22M1649.52 500.61v22M1658.29 533.25v22M1667.64 521.48v22M1676.29 518.24v22M1684.48 529.56v22M1692.1 528.25v22M1699.25 533.82v22M1706.4 517.05v22M1712.98 528.02v22M1719.21 516.25v22M1725.21 530.64v22M1731.1 535.3v22M1737.33 529.67v22M1743.9 539.62v22M1750.25 539v22M1756.25 520.06v22M1762.36 514.71v22M1768.02 519.72v22M1773.67 520.06v22M1778.98 526.09v22M1784.75 505.5v22M1790.86 520.91v22M1796.29 535.93v22M1801.59 512.38v22M1806.9 515.62v22M1811.63 533.14v22M1816.02 523.98v22" stroke="#f00" stroke-opacity="0.33" stroke-width="3.1" fill="none"/>
</g>
<g stroke="#000" stroke-width="2.0" fill="none" stroke-linecap="square">
<rect x="1076.9" y="35" width="742.7" height="442.5"/>
<rect x="1076.9" y="477.5" width="742.7" height="110.5"/>
</g>
<path d="M1076.9 35h-7.3M1076.9 123.5h-7.3M1076.9 212h-7.3M1076.9 300.5h-7.3M1076.9 389h-7.3M1076.9 477.5h-7.3M1076.9 533h-7.3M1076.9 588h-7.3M1106.8 588v7.6M1416.4 588v7.6M1726 588v7.6" stroke="#000" stroke-width="2.0" fill="none"/>
<path d="M1076.8 588v4.6M1092.63 588v4.6M1200 588v4.6M1254.52 588v4.6M1293.2 588v4.6M1323.2 588v4.6M1347.72 588v4.6M1368.44 588v4.6M1386.4 588v4.6M1402.23 588v4.6M1509.6 588v4.6M1564.12 588v4.6M1602.8 588v4.6M1632.8 588v4.6M1657.32 588v4.6M1678.04 588v4.6M1696 588v4.6M1711.83 588v4.6M1819.2 588v4.6" stroke="#000" stroke-width="1.5" fill="none"/>
<g class="sn">
<text x="1060.9" y="43.4" font-size="20.8" text-anchor="end">10<tspan font-size="14.56" dy="-7.9" dx="0">5</tspan></text>
<text x="1060.9" y="131.9" font-size="20.8" text-anchor="end">10<tspan font-size="14.56" dy="-7.9" dx="0">3</tspan></text>
<text x="1060.9" y="220.4" font-size="20.8" text-anchor="end">10<tspan font-size="14.56" dy="-7.9" dx="0">1</tspan></text>
<text x="1060.9" y="308.9" font-size="20.8" text-anchor="end">10<tspan font-size="14.56" dy="-7.9" dx="0">−<tspan dx="1.04">1</tspan></tspan></text>
<text x="1060.9" y="397.4" font-size="20.8" text-anchor="end">10<tspan font-size="14.56" dy="-7.9" dx="0">−<tspan dx="1.04">3</tspan></tspan></text>
<text x="1060.9" y="485.9" font-size="20.8" text-anchor="end">10<tspan font-size="14.56" dy="-7.9" dx="0">−<tspan dx="1.04">5</tspan></tspan></text>
<text x="1061.7" y="487.7" font-size="26" text-anchor="end">5</text>
<text x="1061.7" y="543.2" font-size="26" text-anchor="end">0</text>
<text x="1061.7" y="598.2" font-size="26" text-anchor="end">−5</text>
<text x="1106.5" y="624.1" font-size="27" text-anchor="middle">10<tspan font-size="18.9" dy="-10.39" dx="0.6">1</tspan></text>
<text x="1416.1" y="624.1" font-size="27" text-anchor="middle">10<tspan font-size="18.9" dy="-10.39" dx="0.6">2</tspan></text>
<text x="1725.7" y="624.1" font-size="27" text-anchor="middle">10<tspan font-size="18.9" dy="-10.39" dx="0.6">3</tspan></text>
<text x="1448.25" y="662" font-size="30.85" text-anchor="middle">Energy(keV)</text>
<text x="1447.95" y="22.8" font-size="31.25" text-anchor="middle">BBBAND</text>
<text transform="translate(996 257.8) rotate(-90)" font-size="31.25" text-anchor="middle">Counts Rate(<tspan font-style="italic">s</tspan><tspan font-size="21.88" dy="-11.88">−1</tspan><tspan font-style="italic" dy="11.88" dx="1">kev</tspan><tspan font-size="21.88" dy="-11.88">−1</tspan><tspan dy="11.88" dx="1">)</tspan></text>
<text transform="translate(1007.8 533.4) rotate(-90)" font-size="31.25" text-anchor="middle">resid</text>
<text x="1161.6" y="313" font-size="31.1">Model: BBBAND,</text>
<text x="1171.6" y="348" font-size="31.1">BIC=138.32</text>
<text x="1161.6" y="389" font-size="31.1">, <tspan font-style="italic">χ</tspan><tspan font-size="21.77" dy="-11.82">2</tspan><tspan dy="11.82" dx="0.8">/n.d.o.f=125.72/120</tspan></text>
</g>
<text class="sf" transform="translate(1095.74 144.8) scale(0.8377 1)" font-size="36.5">(</text>
<text class="sf" transform="translate(1108.3 144.3) scale(1.0667 1)" font-size="32">b</text>
<text class="sf" transform="translate(1125 144.8) scale(0.8767 1)" font-size="36.5">)</text>
<text class="sf" transform="translate(1149.91 144.3) scale(1.0109 1)" font-size="34.6">G</text>
<text class="sf" transform="translate(1176.81 144.3) scale(1.0922 1)" font-size="34.6">R</text>
<text class="sf" transform="translate(1203.26 144.3) scale(1.0007 1)" font-size="34.6">B</text>
<text class="sf" transform="translate(1238.42 144.3) scale(1.0349 1)" font-size="33.4">221022</text>
<text class="sf" transform="translate(1342.96 144.3) scale(1.0055 1)" font-size="34.6">B</text>
<text class="sf" transform="translate(1103.2 181.7) scale(1.2486 1)" font-size="34.6" font-style="italic">T</text>
<text class="sf" transform="translate(1125.24 186.3) scale(1.1732 1)" font-size="23.38">0</text>
<text class="sn" transform="translate(1146.59 184.7) scale(1.0159 1)" font-size="35.8" font-weight="200">+</text>
<text class="sf" transform="translate(1184.58 184.5) scale(0.5990 1)" font-size="40.6">[</text>
<text class="sn" transform="translate(1191.11 184.4) scale(0.9811 1)" font-size="35.8" font-weight="200">−</text>
<text class="sf" transform="translate(1219.68 181.7) scale(1.0716 1)" font-size="33.4">2</text>
<text class="sf" transform="translate(1237.8 181.7) scale(0.9249 1)" font-size="34.6">,</text>
<text class="sf" transform="translate(1252.53 181.7) scale(1.0251 1)" font-size="33.4">20</text>
<text class="sf" transform="translate(1286.41 184.5) scale(0.5465 1)" font-size="40.6">]</text>
<text class="sf" transform="translate(1307.1 181.7) scale(1.1048 1)" font-size="32">s</text>
<rect x="1463" y="51.3" width="340.5" height="191.2" rx="5" ry="5" fill="#fff" fill-opacity="0.8" stroke="#d4d4d4" stroke-width="1.7"/>
<path d="M1474.8 75.7H1536.8" stroke="#000" stroke-width="3.1" stroke-dasharray="3.1 5.1" stroke-dashoffset="0"/>
<text x="1562" y="86.5" font-size="31.25" class="sn">BB component</text>
<path d="M1474.8 121.7H1536.8" stroke="#f00" stroke-width="3.1" stroke-dasharray="3.1 5.1" stroke-dashoffset="0"/>
<text x="1562" y="132.5" font-size="31.25" class="sn">BB component</text>
<path d="M1505.8 151.9V183.1" stroke="#000" stroke-opacity="0.33" stroke-width="3.1"/>
<circle cx="1505.8" cy="167.5" r="4.2" fill="#000" fill-opacity="0.33"/>
<text x="1562" y="178.3" font-size="31.25" class="sn">Fermi/GBM n4</text>
<path d="M1505.8 197.9V229.1" stroke="#f00" stroke-opacity="0.33" stroke-width="3.1"/>
<circle cx="1505.8" cy="213.5" r="4.2" fill="#f00" fill-opacity="0.33"/>
<text x="1562" y="224.3" font-size="31.25" class="sn">Fermi/GBM b0</text>
<clipPath id="clipC"><rect x="119.4" y="763" width="742.05" height="590"/></clipPath>
<g clip-path="url(#clipC)">
<path d="M68.82 1217.95C69.67 1216.87 72.22 1213.62 73.92 1211.46C75.62 1209.31 77.32 1207.16 79.02 1205.02C80.73 1202.87 82.43 1200.73 84.13 1198.6C85.83 1196.47 87.53 1194.34 89.23 1192.22C90.93 1190.1 92.64 1187.98 94.34 1185.87C96.04 1183.76 97.74 1181.66 99.44 1179.57C101.14 1177.47 102.84 1175.38 104.55 1173.3C106.25 1171.21 107.95 1169.14 109.65 1167.07C111.35 1165 113.05 1162.94 114.75 1160.88C116.46 1158.83 118.16 1156.78 119.86 1154.74C121.56 1152.7 123.26 1150.67 124.96 1148.64C126.66 1146.62 128.37 1144.6 130.07 1142.59C131.77 1140.58 133.47 1138.58 135.17 1136.58C136.87 1134.59 138.57 1132.61 140.28 1130.63C141.98 1128.65 143.68 1126.69 145.38 1124.73C147.08 1122.77 148.78 1120.82 150.48 1118.88C152.19 1116.94 153.89 1115.01 155.59 1113.08C157.29 1111.16 158.99 1109.25 160.69 1107.34C162.39 1105.44 164.1 1103.55 165.8 1101.66C167.5 1099.78 169.2 1097.91 170.9 1096.04C172.6 1094.18 174.3 1092.33 176.01 1090.48C177.71 1088.64 179.41 1086.81 181.11 1084.99C182.81 1083.17 184.51 1081.36 186.21 1079.56C187.92 1077.76 189.62 1075.97 191.32 1074.19C193.02 1072.41 194.72 1070.65 196.42 1068.89C198.12 1067.14 199.83 1065.4 201.53 1063.66C203.23 1061.93 204.93 1060.21 206.63 1058.51C208.33 1056.8 210.03 1055.1 211.74 1053.42C213.44 1051.74 215.14 1050.06 216.84 1048.4C218.54 1046.74 220.24 1045.1 221.94 1043.46C223.64 1041.83 225.35 1040.21 227.05 1038.6C228.75 1036.99 230.45 1035.39 232.15 1033.8C233.85 1032.22 235.55 1030.65 237.26 1029.09C238.96 1027.53 240.66 1025.98 242.36 1024.44C244.06 1022.91 245.76 1021.39 247.46 1019.88C249.17 1018.37 250.87 1016.87 252.57 1015.38C254.27 1013.9 255.97 1012.43 257.67 1010.96C259.37 1009.5 261.08 1008.06 262.78 1006.62C264.48 1005.18 266.18 1003.76 267.88 1002.35C269.58 1000.93 271.28 999.53 272.99 998.14C274.69 996.75 276.39 995.37 278.09 994.01C279.79 992.64 281.49 991.29 283.19 989.94C284.9 988.6 286.6 987.26 288.3 985.94C290 984.61 291.7 983.3 293.4 982C295.1 980.7 296.81 979.4 298.51 978.12C300.21 976.84 301.91 975.56 303.61 974.3C305.31 973.03 307.01 971.78 308.72 970.53C310.42 969.28 312.12 968.05 313.82 966.82C315.52 965.59 317.22 964.37 318.92 963.15C320.63 961.94 322.33 960.73 324.03 959.53C325.73 958.33 327.43 957.14 329.13 955.96C330.83 954.77 332.54 953.59 334.24 952.42C335.94 951.25 337.64 950.09 339.34 948.93C341.04 947.77 342.74 946.62 344.45 945.47C346.15 944.32 347.85 943.18 349.55 942.05C351.25 940.91 352.95 939.78 354.65 938.66C356.36 937.53 358.06 936.41 359.76 935.3C361.46 934.18 363.16 933.07 364.86 931.97C366.56 930.86 368.27 929.77 369.97 928.67C371.67 927.58 373.37 926.49 375.07 925.4C376.77 924.32 378.47 923.24 380.18 922.16C381.88 921.09 383.58 920.02 385.28 918.95C386.98 917.88 388.68 916.82 390.38 915.77C392.09 914.71 393.79 913.66 395.49 912.61C397.19 911.57 398.89 910.53 400.59 909.49C402.29 908.46 403.99 907.43 405.7 906.4C407.4 905.38 409.1 904.36 410.8 903.34C412.5 902.33 414.2 901.32 415.9 900.32C417.61 899.32 419.31 898.32 421.01 897.33C422.71 896.34 424.41 895.36 426.11 894.38C427.81 893.41 429.52 892.44 431.22 891.47C432.92 890.51 434.62 889.55 436.32 888.6C438.02 887.65 439.72 886.71 441.43 885.77C443.13 884.84 444.83 883.91 446.53 882.99C448.23 882.07 449.93 881.16 451.63 880.26C453.34 879.36 455.04 878.46 456.74 877.58C458.44 876.69 460.14 875.81 461.84 874.94C463.54 874.08 465.25 873.22 466.95 872.37C468.65 871.52 470.35 870.68 472.05 869.85C473.75 869.02 475.45 868.2 477.16 867.4C478.86 866.59 480.56 865.79 482.26 865.01C483.96 864.22 485.66 863.44 487.36 862.68C489.07 861.92 490.77 861.17 492.47 860.43C494.17 859.69 495.87 858.97 497.57 858.25C499.27 857.54 500.98 856.84 502.68 856.16C504.38 855.47 506.08 854.8 507.78 854.14C509.48 853.48 511.18 852.84 512.89 852.21C514.59 851.59 516.29 850.97 517.99 850.38C519.69 849.78 521.39 849.2 523.09 848.64C524.8 848.07 526.5 847.53 528.2 847C529.9 846.47 531.6 845.96 533.3 845.47C535 844.98 536.71 844.5 538.41 844.05C540.11 843.59 541.81 843.16 543.51 842.75C545.21 842.33 546.91 841.94 548.62 841.57C550.32 841.2 552.02 840.84 553.72 840.52C555.42 840.19 557.12 839.89 558.82 839.61C560.53 839.32 562.23 839.07 563.93 838.84C565.63 838.6 567.33 838.4 569.03 838.22C570.73 838.04 572.43 837.88 574.14 837.76C575.84 837.63 577.54 837.53 579.24 837.46C580.94 837.39 582.64 837.35 584.34 837.34C586.05 837.33 587.75 837.35 589.45 837.4C591.15 837.45 592.85 837.54 594.55 837.66C596.25 837.77 597.96 837.92 599.66 838.11C601.36 838.3 603.06 838.52 604.76 838.78C606.46 839.04 608.16 839.33 609.87 839.66C611.57 840 613.27 840.37 614.97 840.78C616.67 841.2 618.37 841.65 620.07 842.15C621.78 842.64 623.48 843.18 625.18 843.76C626.88 844.35 628.58 844.97 630.28 845.65C631.98 846.32 633.69 847.04 635.39 847.81C637.09 848.58 638.79 849.4 640.49 850.27C642.19 851.14 643.89 852.06 645.6 853.03C647.3 854 649 855.03 650.7 856.11C652.4 857.2 654.1 858.33 655.8 859.53C657.51 860.73 659.21 861.98 660.91 863.3C662.61 864.62 664.31 865.99 666.01 867.44C667.71 868.88 669.42 870.38 671.12 871.96C672.82 873.53 674.52 875.16 676.22 876.87C677.92 878.58 679.62 880.36 681.33 882.21C683.03 884.06 684.73 885.98 686.43 887.98C688.13 889.98 689.83 892.05 691.53 894.21C693.24 896.36 694.94 898.59 696.64 900.91C698.34 903.22 700.04 905.62 701.74 908.1C703.44 910.59 705.15 913.16 706.85 915.82C708.55 918.48 710.25 921.22 711.95 924.06C713.65 926.91 715.35 929.84 717.06 932.87C718.76 935.91 720.46 939.03 722.16 942.26C723.86 945.5 725.56 948.82 727.26 952.26C728.97 955.7 730.67 959.24 732.37 962.89C734.07 966.55 735.77 970.31 737.47 974.18C739.17 978.06 740.87 982.05 742.58 986.16C744.28 990.27 745.98 994.49 747.68 998.85C749.38 1003.2 751.08 1007.67 752.78 1012.28C754.49 1016.88 756.19 1021.61 757.89 1026.48C759.59 1031.35 761.29 1036.34 762.99 1041.48C764.69 1046.62 766.4 1051.9 768.1 1057.32C769.8 1062.75 771.5 1068.31 773.2 1074.03C774.9 1079.75 776.6 1085.61 778.31 1091.64C780.01 1097.67 781.71 1103.84 783.41 1110.19C785.11 1116.53 786.81 1123.04 788.51 1129.71C790.22 1136.39 791.92 1143.23 793.62 1150.25C795.32 1157.27 797.02 1164.46 798.72 1171.84C800.42 1179.22 802.13 1186.78 803.83 1194.53C805.53 1202.28 807.23 1210.22 808.93 1218.36C810.63 1226.5 812.33 1234.83 814.04 1243.37C815.74 1251.91 817.44 1260.65 819.14 1269.61C820.84 1278.57 822.54 1287.74 824.24 1297.13C825.95 1306.53 827.65 1316.14 829.35 1325.98C831.05 1335.83 832.75 1345.9 834.45 1356.21C836.15 1366.53 837.86 1377.08 839.56 1387.88C841.26 1398.68 842.96 1409.73 844.66 1421.04C846.36 1432.35 848.06 1443.91 849.77 1455.74C851.47 1467.58 854.02 1486.01 854.87 1492.06" stroke="#f00" stroke-width="4.0" stroke-dasharray="14.8 6.4" stroke-dashoffset="6.2" fill="none"/>
<path d="M125.75 1077.11V1147.54M138.8 1090.14V1186.97M150.81 1064.61V1119.72M162.5 1091.2V1239.79M174.51 1062.5V1122.71M185.78 1063.38V1131.69M196.43 1046.65V1094.54M206.55 1031.34V1069.89M216.37 1025.53V1062.85M225.55 1025.18V1064.79M234.95 1009.15V1037.85M244.45 1001.69V1028.73M253.43 994.37V1020.85M261.47 990.42V1017.69M269.71 1001.69V1033.8M277.44 974.08V994.93M285.48 978.03V1003.04M294.25 985.92V1020.85M302.91 985.92V1023.66M311.18 970.14V1001.13M317.86 926.76V948.51M323.5 934.08V955.49M329.24 936.34V958.31M334.88 925.97V944.79M340.52 944.23V970.14M346.26 942.54V967.66M352.21 938.59V961.13M357.95 921.13V938.59M363.59 928.45V949.86M369.43 924.51V946.48M375.38 907.94V923.94M381.13 941.97V972.96M386.76 909.07V927.66M392.4 910.42V930.7M397.93 906.48V925.97M403.57 892.39V908.17M409.31 890.14V906.48M414.64 900.28V919.66M420.07 874.25V891.25M425.28 879.02V894.71M430.5 884.25V898.78M435.52 885.42V902.27M440.53 882.51V898.78M445.43 870.89V884.83M450.24 874.96V890.64M454.83 865.08V877.86M459.42 864.5V877.86M464.02 874.38V891.23M468.4 854.04V867.4M472.78 855.2V868.56M477.27 851.71V865.08M481.66 851.13V864.5M485.96 843.58V855.78M490.35 855.2V870.66M494.63 844.16V858.11M499.22 840.09V852.3M503.19 855.2V872.63M507.47 850.55V867.4M511.54 851.13V873.79M515.71 848.81V868.56M520.2 840.67V856.36M524.17 823.24V837.77M528.45 840.09V860.43M532.52 854.62V882.51M536.7 854.39V887.74M540.77 875.54V941.78M544.94 824.17V845.32M549.02 846.48V883.09M553.19 830.45V855.55M557.37 834.28V862.52M561.33 857.18V904.59M565.41 826.73V854.39M569.48 818.59V845.32M573.44 850.9V910.98M577.52 819.17V851.71M581.48 826.5V867.4M585.55 829.05V874.38M589.52 833.7V883.44M593.59 840.09V913.65M597.56 839.51V900.52M601.53 823.82V874.38M605.49 821.97V965.28M609.57 819.76V872.05M613.53 834.28V915.05M617.5 804.07V845.9M621.47 805.23V854.04M119.22 1102.99H132.28M132.8 1121.48H144.81M144.97 1086.44H156.66M156.5 1129.4H168.5M168.88 1085.74H180.14M180.45 1088.91H191.11M191.37 1066.37H201.49M201.64 1047.54H211.46M211.78 1041.02H220.96M220.85 1042.25H230.25M230.2 1022.01H239.7M239.96 1013.52H248.94M249.41 1006.2H257.45M257.35 1002.48H265.59M265.84 1014.08H273.57M273.42 983.66H281.46M281.1 989.52H289.87M289.92 1001.35H298.58M298.78 1001.69H307.05M307.84 983.66H314.52M315.04 936.68H320.68M320.63 943.66H326.37M326.42 946.25H332.06M332.06 934.65H337.7M337.65 955.72H343.39M343.28 953.8H349.24M349.34 948.51H355.08M355.13 929.58H360.77M360.67 937.46H366.51M366.46 934.65H372.4M372.5 915.49H378.25M378.31 955.72H383.94M383.94 917.18H389.58M389.63 919.44H395.16M395.11 915.49H400.75M400.7 899.94H406.44M406.64 898.03H411.98M411.92 909.52H417.36M417.47 882.25H422.67M422.67 886.58H427.89M427.99 891.81H433.01M433.01 892.97H438.02M438.08 890.06H442.98M443.02 877.28H447.84M447.95 881.93H452.53M452.53 870.89H457.12M457.12 871.12H461.72M461.83 882.16H466.21M466.21 860.43H470.59M470.53 861.59H475.02M475.07 858.11H479.47M479.51 857.52H483.81M483.76 849.39H488.15M488.21 862.52H492.49M492.33 850.9H496.93M497.24 846.25H501.21M501.05 863.34H505.33M505.44 861.01H509.5M509.46 861.59H513.62M513.47 858.11H517.96M518.22 847.88H522.18M522.03 829.98H526.31M526.42 849.97H530.49M530.43 866.47H534.61M534.67 869.15H538.74M538.68 900.17H542.86M542.9 834.05H546.98M546.93 862.41H551.11M551.1 842.77H555.28M555.39 846.48H559.35M559.29 876.12H563.37M563.38 838.93H567.44M567.5 830.45H571.46M571.4 873.79H575.48M575.54 832.89H579.5M579.45 844.16H583.51M583.56 847.88H587.53M587.48 853.81H591.56M591.61 866.24H595.58M595.57 862.41H599.54M599.55 844.16H603.51M603.45 882.86H607.53M607.59 840.09H611.55M611.54 862.75H615.51M615.51 820.92H619.49M619.49 825.33H623.46" stroke="#00f" stroke-opacity="0.33" stroke-width="2.1" fill="none"/>
<path d="M591.19 829.72V844.44M607.06 819.65V834.37M621.36 815.78V836.69M634.1 822.75V852.96M645.79 835.92V883.48M656.44 844.13V915.71M666.31 829.72V892.47M675.42 840.25V960.64M683.96 829.25V959.09M691.92 794.08V839.01M700.69 889.06V1353M710.04 842.58V1353M718.69 835.61V1353M726.88 885.41V1353M734.5 877.46V1353M741.65 959.94V1353M748.8 818.31V1353M755.38 874.93V1353M761.61 805.13V1353M767.61 906.7V1353M779.73 885.91V1353M798.65 804.28V1353M804.76 785.35V1353M810.42 791.77V1353M816.07 784V1353M821.38 817.46V1353M827.15 760V845.35M833.26 791.61V1353M843.99 760V1353M849.3 760V1353M854.03 1236.6V1353M858.42 774.4V1353M861.3 816.6V816.6M583.26 836.69H599.12M599.91 827.08H614.21M614.99 825.54H627.73M628.26 835.92H639.94M640.46 854.97H651.12M651.51 870.47H661.38M661.75 853.27H670.87M671.15 875.42H679.69M679.98 865.35H687.94M687.53 812.99H696.31M696.02 1156.3H705.37M705.71 892H714.37M714.6 879.76H722.79M745.51 876.62H752.09M758.61 864.79H764.61M795.6 915.49H801.7M801.93 843.66H807.59M807.59 899.94H813.25M813.42 900.62H818.73M824.1 774.87H830.2M830.54 940H835.98M841.34 787.89H846.64M846.93 814.42H851.66M859.86 816.6H862.74" stroke="#ffa500" stroke-opacity="0.33" stroke-width="2.1" fill="none"/>
<g fill="#00f" fill-opacity="0.33"><circle cx="125.75" cy="1102.99" r="6.0"/><circle cx="138.8" cy="1121.48" r="6.0"/><circle cx="150.81" cy="1086.44" r="6.0"/><circle cx="162.5" cy="1129.4" r="6.0"/><circle cx="174.51" cy="1085.74" r="6.0"/><circle cx="185.78" cy="1088.91" r="6.0"/><circle cx="196.43" cy="1066.37" r="6.0"/><circle cx="206.55" cy="1047.54" r="6.0"/><circle cx="216.37" cy="1041.02" r="6.0"/><circle cx="225.55" cy="1042.25" r="6.0"/><circle cx="234.95" cy="1022.01" r="6.0"/><circle cx="244.45" cy="1013.52" r="6.0"/><circle cx="253.43" cy="1006.2" r="6.0"/><circle cx="261.47" cy="1002.48" r="6.0"/><circle cx="269.71" cy="1014.08" r="6.0"/><circle cx="277.44" cy="983.66" r="6.0"/><circle cx="285.48" cy="989.52" r="6.0"/><circle cx="294.25" cy="1001.35" r="6.0"/><circle cx="302.91" cy="1001.69" r="6.0"/><circle cx="311.18" cy="983.66" r="6.0"/><circle cx="317.86" cy="936.68" r="6.0"/><circle cx="323.5" cy="943.66" r="6.0"/><circle cx="329.24" cy="946.25" r="6.0"/><circle cx="334.88" cy="934.65" r="6.0"/><circle cx="340.52" cy="955.72" r="6.0"/><circle cx="346.26" cy="953.8" r="6.0"/><circle cx="352.21" cy="948.51" r="6.0"/><circle cx="357.95" cy="929.58" r="6.0"/><circle cx="363.59" cy="937.46" r="6.0"/><circle cx="369.43" cy="934.65" r="6.0"/><circle cx="375.38" cy="915.49" r="6.0"/><circle cx="381.13" cy="955.72" r="6.0"/><circle cx="386.76" cy="917.18" r="6.0"/><circle cx="392.4" cy="919.44" r="6.0"/><circle cx="397.93" cy="915.49" r="6.0"/><circle cx="403.57" cy="899.94" r="6.0"/><circle cx="409.31" cy="898.03" r="6.0"/><circle cx="414.64" cy="909.52" r="6.0"/><circle cx="420.07" cy="882.25" r="6.0"/><circle cx="425.28" cy="886.58" r="6.0"/><circle cx="430.5" cy="891.81" r="6.0"/><circle cx="435.52" cy="892.97" r="6.0"/><circle cx="440.53" cy="890.06" r="6.0"/><circle cx="445.43" cy="877.28" r="6.0"/><circle cx="450.24" cy="881.93" r="6.0"/><circle cx="454.83" cy="870.89" r="6.0"/><circle cx="459.42" cy="871.12" r="6.0"/><circle cx="464.02" cy="882.16" r="6.0"/><circle cx="468.4" cy="860.43" r="6.0"/><circle cx="472.78" cy="861.59" r="6.0"/><circle cx="477.27" cy="858.11" r="6.0"/><circle cx="481.66" cy="857.52" r="6.0"/><circle cx="485.96" cy="849.39" r="6.0"/><circle cx="490.35" cy="862.52" r="6.0"/><circle cx="494.63" cy="850.9" r="6.0"/><circle cx="499.22" cy="846.25" r="6.0"/><circle cx="503.19" cy="863.34" r="6.0"/><circle cx="507.47" cy="861.01" r="6.0"/><circle cx="511.54" cy="861.59" r="6.0"/><circle cx="515.71" cy="858.11" r="6.0"/><circle cx="520.2" cy="847.88" r="6.0"/><circle cx="524.17" cy="829.98" r="6.0"/><circle cx="528.45" cy="849.97" r="6.0"/><circle cx="532.52" cy="866.47" r="6.0"/><circle cx="536.7" cy="869.15" r="6.0"/><circle cx="540.77" cy="900.17" r="6.0"/><circle cx="544.94" cy="834.05" r="6.0"/><circle cx="549.02" cy="862.41" r="6.0"/><circle cx="553.19" cy="842.77" r="6.0"/><circle cx="557.37" cy="846.48" r="6.0"/><circle cx="561.33" cy="876.12" r="6.0"/><circle cx="565.41" cy="838.93" r="6.0"/><circle cx="569.48" cy="830.45" r="6.0"/><circle cx="573.44" cy="873.79" r="6.0"/><circle cx="577.52" cy="832.89" r="6.0"/><circle cx="581.48" cy="844.16" r="6.0"/><circle cx="585.55" cy="847.88" r="6.0"/><circle cx="589.52" cy="853.81" r="6.0"/><circle cx="593.59" cy="866.24" r="6.0"/><circle cx="597.56" cy="862.41" r="6.0"/><circle cx="601.53" cy="844.16" r="6.0"/><circle cx="605.49" cy="882.86" r="6.0"/><circle cx="609.57" cy="840.09" r="6.0"/><circle cx="613.53" cy="862.75" r="6.0"/><circle cx="617.5" cy="820.92" r="6.0"/><circle cx="621.47" cy="825.33" r="6.0"/></g>
<g fill="#ffa500" fill-opacity="0.33"><circle cx="591.19" cy="836.69" r="6.0"/><circle cx="607.06" cy="827.08" r="6.0"/><circle cx="621.36" cy="825.54" r="6.0"/><circle cx="634.1" cy="835.92" r="6.0"/><circle cx="645.79" cy="854.97" r="6.0"/><circle cx="656.44" cy="870.47" r="6.0"/><circle cx="666.31" cy="853.27" r="6.0"/><circle cx="675.42" cy="875.42" r="6.0"/><circle cx="683.96" cy="865.35" r="6.0"/><circle cx="691.92" cy="812.99" r="6.0"/><circle cx="700.69" cy="1156.3" r="6.0"/><circle cx="710.04" cy="892" r="6.0"/><circle cx="718.69" cy="879.76" r="6.0"/><circle cx="748.8" cy="876.62" r="6.0"/><circle cx="761.61" cy="864.79" r="6.0"/><circle cx="798.65" cy="915.49" r="6.0"/><circle cx="804.76" cy="843.66" r="6.0"/><circle cx="810.42" cy="899.94" r="6.0"/><circle cx="816.07" cy="900.62" r="6.0"/><circle cx="827.15" cy="774.87" r="6.0"/><circle cx="833.26" cy="940" r="6.0"/><circle cx="843.99" cy="787.89" r="6.0"/><circle cx="849.3" cy="814.42" r="6.0"/><circle cx="861.3" cy="816.6" r="6.0"/></g>
</g>
<path d="M118.8 763H862.05M118.8 1353H862.05" stroke="#7a7a7a" stroke-width="2.0" fill="none"/>
<path d="M119.4 762V1354" stroke="#2d2d2d" stroke-width="1.3"/>
<path d="M861.45 762V1354" stroke="#000" stroke-width="1.2"/>
<path d="M119.4 763h-5.3M119.4 910.5h-5.3M119.4 1058h-5.3M119.4 1205.5h-5.3M119.4 1353h-5.3M149.2 1353v5.3M458.8 1353v5.3M768.4 1353v5.3" stroke="#333" stroke-width="1.2" fill="none"/>
<path d="M119.2 1353v3.1M135.03 1353v3.1M242.4 1353v3.1M296.92 1353v3.1M335.6 1353v3.1M365.6 1353v3.1M390.12 1353v3.1M410.84 1353v3.1M428.8 1353v3.1M444.63 1353v3.1M552 1353v3.1M606.52 1353v3.1M645.2 1353v3.1M675.2 1353v3.1M699.72 1353v3.1M720.44 1353v3.1M738.4 1353v3.1M754.23 1353v3.1M861.6 1353v3.1M119.4 866.1h-3.1M119.4 840.12h-3.1M119.4 821.7h-3.1M119.4 807.4h-3.1M119.4 795.72h-3.1M119.4 785.85h-3.1M119.4 777.29h-3.1M119.4 769.75h-3.1M119.4 1013.6h-3.1M119.4 987.62h-3.1M119.4 969.2h-3.1M119.4 954.9h-3.1M119.4 943.22h-3.1M119.4 933.35h-3.1M119.4 924.79h-3.1M119.4 917.25h-3.1M119.4 1161.1h-3.1M119.4 1135.12h-3.1M119.4 1116.7h-3.1M119.4 1102.4h-3.1M119.4 1090.72h-3.1M119.4 1080.85h-3.1M119.4 1072.29h-3.1M119.4 1064.75h-3.1M119.4 1308.6h-3.1M119.4 1282.62h-3.1M119.4 1264.2h-3.1M119.4 1249.9h-3.1M119.4 1238.22h-3.1M119.4 1228.35h-3.1M119.4 1219.79h-3.1M119.4 1212.25h-3.1" stroke="#333" stroke-width="1.0" fill="none"/>
<g class="sn">
<text x="108.2" y="772.7" font-size="26.7" text-anchor="end">10<tspan font-size="18.69" dy="-10.68" dx="0">3</tspan></text>
<text x="108.2" y="920.2" font-size="26.7" text-anchor="end">10<tspan font-size="18.69" dy="-10.68" dx="0">2</tspan></text>
<text x="108.2" y="1067.7" font-size="26.7" text-anchor="end">10<tspan font-size="18.69" dy="-10.68" dx="0">1</tspan></text>
<text x="108.2" y="1215.2" font-size="26.7" text-anchor="end">10<tspan font-size="18.69" dy="-10.68" dx="0">0</tspan></text>
<text x="109.2" y="1362.7" font-size="26.7" text-anchor="end">10<tspan font-size="18.69" dy="-10.68" dx="0">−<tspan dx="0">1</tspan></tspan></text>
<text x="148.7" y="1382.6" font-size="26.7" text-anchor="middle">10<tspan font-size="18.69" dy="-10.68" dx="0">1</tspan></text>
<text x="458.3" y="1382.6" font-size="26.7" text-anchor="middle">10<tspan font-size="18.69" dy="-10.68" dx="0">2</tspan></text>
<text x="767.9" y="1382.6" font-size="26.7" text-anchor="middle">10<tspan font-size="18.69" dy="-10.68" dx="0">3</tspan></text>
<text x="490.73" y="1414" font-size="26.7" text-anchor="middle">Energy(keV)</text>
<text transform="translate(34.4 1058.5) rotate(-90)" font-size="26.7" text-anchor="middle">keV<tspan font-size="18.69" dy="-10.15">2</tspan><tspan dy="10.15"> (photons cm</tspan><tspan font-size="18.69" dy="-10.15">−2</tspan><tspan dy="10.15"> </tspan><tspan font-style="italic">s</tspan><tspan font-size="18.69" dy="-10.15">−1</tspan><tspan dy="10.15">keV</tspan><tspan font-size="18.69" dy="-10.15">−1</tspan><tspan dy="10.15">)</tspan></text>
</g>
<text class="sf" transform="translate(435.43 746) scale(1.1778 1)" font-size="31">mBB</text>
<rect x="133" y="776.5" width="191" height="124.5" rx="4" ry="4" fill="#fff" fill-opacity="0.8" stroke="#cfcfcf" stroke-width="1.4"/>
<path d="M143 798H196.4" stroke="#f00" stroke-width="4.0" stroke-dasharray="14.8 6.4"/>
<text x="217.2" y="807.5" font-size="26.7" class="sn">mBB</text>
<path d="M169.7 823.5V850.5M156.2 837H183.2" stroke="#00f" stroke-opacity="0.33" stroke-width="2.1"/>
<circle cx="169.7" cy="837" r="6.0" fill="#00f" fill-opacity="0.33"/>
<text x="217.2" y="846.5" font-size="26.7" class="sn">GBMn4</text>
<path d="M169.7 862.5V889.5M156.2 876H183.2" stroke="#ffa500" stroke-opacity="0.33" stroke-width="2.1"/>
<circle cx="169.7" cy="876" r="6.0" fill="#ffa500" fill-opacity="0.33"/>
<text x="217.2" y="885.5" font-size="26.7" class="sn">GBMb0</text>
<text class="sf" transform="translate(287.24 1064.8) scale(0.8377 1)" font-size="36.5">(</text>
<text class="sf" transform="translate(298.58 1064.3) scale(1.0240 1)" font-size="32">c</text>
<text class="sf" transform="translate(316.5 1064.8) scale(0.8767 1)" font-size="36.5">)</text>
<text class="sf" transform="translate(341.41 1064.3) scale(1.0109 1)" font-size="34.6">G</text>
<text class="sf" transform="translate(368.31 1064.3) scale(1.0922 1)" font-size="34.6">R</text>
<text class="sf" transform="translate(394.76 1064.3) scale(1.0007 1)" font-size="34.6">B</text>
<text class="sf" transform="translate(429.92 1064.3) scale(1.0349 1)" font-size="33.4">221022</text>
<text class="sf" transform="translate(534.46 1064.3) scale(1.0055 1)" font-size="34.6">B</text>
<text class="sf" transform="translate(358.2 1139.2) scale(1.2486 1)" font-size="34.6" font-style="italic">T</text>
<text class="sf" transform="translate(380.24 1143.8) scale(1.1732 1)" font-size="23.38">0</text>
<text class="sn" transform="translate(401.59 1142.2) scale(1.0159 1)" font-size="35.8" font-weight="200">+</text>
<text class="sf" transform="translate(439.58 1142) scale(0.5990 1)" font-size="40.6">[</text>
<text class="sn" transform="translate(446.11 1141.9) scale(0.9811 1)" font-size="35.8" font-weight="200">−</text>
<text class="sf" transform="translate(474.68 1139.2) scale(1.0716 1)" font-size="33.4">2</text>
<text class="sf" transform="translate(492.8 1139.2) scale(0.9249 1)" font-size="34.6">,</text>
<text class="sf" transform="translate(507.53 1139.2) scale(1.0251 1)" font-size="33.4">20</text>
<text class="sf" transform="translate(541.41 1142) scale(0.5465 1)" font-size="40.6">]</text>
<text class="sf" transform="translate(562.1 1139.2) scale(1.1048 1)" font-size="32">s</text>
<clipPath id="clipD"><rect x="1077" y="763" width="742.05" height="590"/></clipPath>
<g clip-path="url(#clipD)">
<path d="M1083.35 1077.11V1147.54M1096.4 1090.14V1186.97M1108.41 1064.61V1119.72M1120.1 1091.2V1239.79M1132.11 1062.5V1122.71M1143.38 1063.38V1131.69M1154.03 1046.65V1094.54M1164.15 1031.34V1069.89M1173.97 1025.53V1062.85M1183.15 1025.18V1064.79M1192.55 1009.15V1037.85M1202.05 1001.69V1028.73M1211.03 994.37V1020.85M1219.07 990.42V1017.69M1227.31 1001.69V1033.8M1235.04 974.08V994.93M1243.08 978.03V1003.04M1251.85 985.92V1020.85M1260.51 985.92V1023.66M1268.78 970.14V1001.13M1275.46 926.76V948.51M1281.1 934.08V955.49M1286.84 936.34V958.31M1292.48 925.97V944.79M1298.12 944.23V970.14M1303.86 942.54V967.66M1309.81 938.59V961.13M1315.55 921.13V938.59M1321.19 928.45V949.86M1327.03 924.51V946.48M1332.98 907.94V923.94M1338.73 941.97V972.96M1344.36 909.07V927.66M1350 910.42V930.7M1355.53 906.48V925.97M1361.17 892.39V908.17M1366.91 890.14V906.48M1372.24 900.28V919.66M1377.67 874.25V891.25M1382.88 879.02V894.71M1388.1 884.25V898.78M1393.12 885.42V902.27M1398.13 882.51V898.78M1403.03 870.89V884.83M1407.84 874.96V890.64M1412.43 865.08V877.86M1417.02 864.5V877.86M1421.62 874.38V891.23M1426 854.04V867.4M1430.38 855.2V868.56M1434.87 851.71V865.08M1439.26 851.13V864.5M1443.56 843.58V855.78M1447.95 855.2V870.66M1452.23 844.16V858.11M1456.82 840.09V852.3M1460.79 855.2V872.63M1465.07 850.55V867.4M1469.14 851.13V873.79M1473.31 848.81V868.56M1477.8 840.67V856.36M1481.77 823.24V837.77M1486.05 840.09V860.43M1490.12 854.62V882.51M1494.3 854.39V887.74M1498.37 875.54V941.78M1502.54 824.17V845.32M1506.62 846.48V883.09M1510.79 830.45V855.55M1514.97 834.28V862.52M1518.93 857.18V904.59M1523.01 826.73V854.39M1527.08 818.59V845.32M1531.04 850.9V910.98M1535.12 819.17V851.71M1539.08 826.5V867.4M1543.15 829.05V874.38M1547.12 833.7V883.44M1551.19 840.09V913.65M1555.16 839.51V900.52M1559.13 823.82V874.38M1563.09 821.97V965.28M1567.17 819.76V872.05M1571.13 834.28V915.05M1575.1 804.07V845.9M1579.07 805.23V854.04M1076.82 1102.99H1089.88M1090.39 1121.48H1102.41M1102.57 1086.44H1114.26M1114.09 1129.4H1126.11M1126.48 1085.74H1137.75M1138.06 1088.91H1148.71M1148.97 1066.37H1159.09M1159.24 1047.54H1169.06M1169.38 1041.02H1178.56M1178.45 1042.25H1187.85M1187.8 1022.01H1197.3M1197.56 1013.52H1206.54M1207.01 1006.2H1215.05M1214.95 1002.48H1223.19M1223.44 1014.08H1231.17M1231.02 983.66H1239.06M1238.69 989.52H1247.46M1247.52 1001.35H1256.18M1256.38 1001.69H1264.64M1265.44 983.66H1272.12M1272.64 936.68H1278.28M1278.23 943.66H1283.97M1284.02 946.25H1289.66M1289.66 934.65H1295.3M1295.25 955.72H1300.99M1300.89 953.8H1306.84M1306.94 948.51H1312.68M1312.73 929.58H1318.37M1318.27 937.46H1324.11M1324.06 934.65H1330M1330.11 915.49H1335.86M1335.91 955.72H1341.55M1341.54 917.18H1347.18M1347.23 919.44H1352.77M1352.71 915.49H1358.35M1358.3 899.94H1364.04M1364.25 898.03H1369.58M1369.53 909.52H1374.95M1375.07 882.25H1380.28M1380.27 886.58H1385.49M1385.59 891.81H1390.61M1390.61 892.97H1395.62M1395.68 890.06H1400.58M1400.62 877.28H1405.43M1405.55 881.93H1410.14M1410.13 870.89H1414.73M1414.72 871.12H1419.32M1419.43 882.16H1423.81M1423.81 860.43H1428.19M1428.14 861.59H1432.62M1432.67 858.11H1437.06M1437.11 857.52H1441.41M1441.37 849.39H1445.75M1445.81 862.52H1450.09M1449.93 850.9H1454.53M1454.84 846.25H1458.81M1458.65 863.34H1462.93M1463.04 861.01H1467.11M1467.06 861.59H1471.23M1471.07 858.11H1475.55M1475.82 847.88H1479.79M1479.63 829.98H1483.91M1484.02 849.97H1488.09M1488.03 866.47H1492.21M1492.27 869.15H1496.34M1496.28 900.17H1500.45M1500.5 834.05H1504.58M1504.53 862.41H1508.7M1508.7 842.77H1512.88M1512.99 846.48H1516.95M1516.89 876.12H1520.97M1520.97 838.93H1525.05M1525.1 830.45H1529.06M1529 873.79H1533.08M1533.14 832.89H1537.1M1537.05 844.16H1541.11M1541.16 847.88H1545.14M1545.08 853.81H1549.15M1549.21 866.24H1553.17M1553.17 862.41H1557.14M1557.15 844.16H1561.11M1561.05 882.86H1565.13M1565.19 840.09H1569.15M1569.14 862.75H1573.12M1573.11 820.92H1577.09M1577.09 825.33H1581.06" stroke="#00f" stroke-opacity="0.33" stroke-width="2.1" fill="none"/>
<path d="M1548.79 829.72V844.44M1564.66 819.65V834.37M1578.96 815.78V836.69M1591.7 822.75V852.96M1603.39 835.92V883.48M1614.04 844.13V915.71M1623.91 829.72V892.47M1633.02 840.25V960.64M1641.56 829.25V959.09M1649.52 794.08V839.01M1658.29 889.06V1353M1667.64 842.58V1353M1676.29 835.61V1353M1684.48 885.41V1353M1692.1 877.46V1353M1699.25 959.94V1353M1706.4 818.31V1353M1712.98 874.93V1353M1719.21 805.13V1353M1725.21 906.7V1353M1737.33 885.91V1353M1756.25 804.28V1353M1762.36 785.35V1353M1768.02 791.77V1353M1773.67 784V1353M1778.98 817.46V1353M1784.75 760V845.35M1790.86 791.61V1353M1801.59 760V1353M1806.9 760V1353M1811.63 1236.6V1353M1816.02 774.4V1353M1818.9 816.6V816.6M1540.86 836.69H1556.72M1557.51 827.08H1571.81M1572.59 825.54H1585.33M1585.86 835.92H1597.55M1598.06 854.97H1608.71M1609.11 870.47H1618.97M1619.35 853.27H1628.46M1628.75 875.42H1637.29M1637.58 865.35H1645.54M1645.13 812.99H1653.9M1653.62 1156.3H1662.96M1663.31 892H1671.96M1672.19 879.76H1680.38M1703.11 876.62H1709.69M1716.21 864.79H1722.21M1753.19 915.49H1759.31M1759.53 843.66H1765.19M1765.19 899.94H1770.85M1771.02 900.62H1776.33M1781.69 774.87H1787.81M1788.14 940H1793.58M1798.94 787.89H1804.25M1804.54 814.42H1809.27M1817.46 816.6H1820.34" stroke="#ffa500" stroke-opacity="0.33" stroke-width="2.1" fill="none"/>
<path d="M1026.42 1428.31C1027.27 1427.13 1029.82 1423.58 1031.52 1421.21C1033.22 1418.84 1034.92 1416.48 1036.62 1414.12C1038.33 1411.75 1040.03 1409.39 1041.73 1407.03C1043.43 1404.67 1045.13 1402.31 1046.83 1399.95C1048.53 1397.59 1050.24 1395.23 1051.94 1392.88C1053.64 1390.52 1055.34 1388.17 1057.04 1385.82C1058.74 1383.47 1060.44 1381.11 1062.15 1378.77C1063.85 1376.42 1065.55 1374.07 1067.25 1371.72C1068.95 1369.38 1070.65 1367.03 1072.35 1364.69C1074.06 1362.35 1075.76 1360.01 1077.46 1357.67C1079.16 1355.33 1080.86 1352.99 1082.56 1350.66C1084.26 1348.32 1085.97 1345.99 1087.67 1343.66C1089.37 1341.33 1091.07 1339 1092.77 1336.67C1094.47 1334.35 1096.17 1332.02 1097.88 1329.7C1099.58 1327.37 1101.28 1325.05 1102.98 1322.74C1104.68 1320.42 1106.38 1318.1 1108.08 1315.79C1109.79 1313.47 1111.49 1311.16 1113.19 1308.85C1114.89 1306.54 1116.59 1304.24 1118.29 1301.93C1119.99 1299.63 1121.7 1297.33 1123.4 1295.03C1125.1 1292.73 1126.8 1290.43 1128.5 1288.14C1130.2 1285.85 1131.9 1283.55 1133.61 1281.27C1135.31 1278.98 1137.01 1276.69 1138.71 1274.41C1140.41 1272.13 1142.11 1269.85 1143.81 1267.57C1145.52 1265.3 1147.22 1263.03 1148.92 1260.76C1150.62 1258.49 1152.32 1256.22 1154.02 1253.96C1155.72 1251.69 1157.43 1249.44 1159.13 1247.18C1160.83 1244.92 1162.53 1242.67 1164.23 1240.42C1165.93 1238.17 1167.63 1235.93 1169.34 1233.69C1171.04 1231.45 1172.74 1229.21 1174.44 1226.98C1176.14 1224.74 1177.84 1222.51 1179.54 1220.29C1181.24 1218.06 1182.95 1215.84 1184.65 1213.63C1186.35 1211.41 1188.05 1209.2 1189.75 1206.99C1191.45 1204.78 1193.15 1202.58 1194.86 1200.38C1196.56 1198.18 1198.26 1195.99 1199.96 1193.8C1201.66 1191.61 1203.36 1189.43 1205.06 1187.25C1206.77 1185.07 1208.47 1182.9 1210.17 1180.73C1211.87 1178.57 1213.57 1176.4 1215.27 1174.25C1216.97 1172.09 1218.68 1169.94 1220.38 1167.8C1222.08 1165.65 1223.78 1163.51 1225.48 1161.38C1227.18 1159.25 1228.88 1157.12 1230.59 1155C1232.29 1152.89 1233.99 1150.77 1235.69 1148.67C1237.39 1146.56 1239.09 1144.46 1240.79 1142.37C1242.5 1140.28 1244.2 1138.19 1245.9 1136.11C1247.6 1134.04 1249.3 1131.97 1251 1129.9C1252.7 1127.84 1254.41 1125.79 1256.11 1123.74C1257.81 1121.69 1259.51 1119.66 1261.21 1117.63C1262.91 1115.6 1264.61 1113.58 1266.32 1111.56C1268.02 1109.55 1269.72 1107.55 1271.42 1105.55C1273.12 1103.56 1274.82 1101.58 1276.52 1099.6C1278.23 1097.63 1279.93 1095.66 1281.63 1093.71C1283.33 1091.75 1285.03 1089.81 1286.73 1087.88C1288.43 1085.94 1290.14 1084.02 1291.84 1082.11C1293.54 1080.2 1295.24 1078.3 1296.94 1076.41C1298.64 1074.52 1300.34 1072.65 1302.05 1070.78C1303.75 1068.92 1305.45 1067.07 1307.15 1065.23C1308.85 1063.39 1310.55 1061.57 1312.25 1059.76C1313.96 1057.94 1315.66 1056.15 1317.36 1054.36C1319.06 1052.58 1320.76 1050.81 1322.46 1049.06C1324.16 1047.3 1325.87 1045.56 1327.57 1043.84C1329.27 1042.12 1330.97 1040.41 1332.67 1038.72C1334.37 1037.03 1336.07 1035.35 1337.78 1033.7C1339.48 1032.04 1341.18 1030.4 1342.88 1028.78C1344.58 1027.16 1346.28 1025.56 1347.98 1023.97C1349.69 1022.39 1351.39 1020.82 1353.09 1019.28C1354.79 1017.74 1356.49 1016.21 1358.19 1014.71C1359.89 1013.21 1361.59 1011.72 1363.3 1010.26C1365 1008.8 1366.7 1007.37 1368.4 1005.95C1370.1 1004.54 1371.8 1003.15 1373.5 1001.78C1375.21 1000.41 1376.91 999.07 1378.61 997.76C1380.31 996.44 1382.01 995.15 1383.71 993.88C1385.41 992.62 1387.12 991.38 1388.82 990.18C1390.52 988.97 1392.22 987.79 1393.92 986.64C1395.62 985.49 1397.32 984.37 1399.03 983.28C1400.73 982.19 1402.43 981.13 1404.13 980.1C1405.83 979.08 1407.53 978.08 1409.23 977.13C1410.94 976.17 1412.64 975.24 1414.34 974.36C1416.04 973.47 1417.74 972.62 1419.44 971.8C1421.14 970.99 1422.85 970.21 1424.55 969.48C1426.25 968.74 1427.95 968.04 1429.65 967.39C1431.35 966.73 1433.05 966.12 1434.76 965.55C1436.46 964.98 1438.16 964.45 1439.86 963.97C1441.56 963.49 1443.26 963.05 1444.96 962.67C1446.67 962.28 1448.37 961.94 1450.07 961.65C1451.77 961.36 1453.47 961.12 1455.17 960.94C1456.87 960.75 1458.58 960.61 1460.28 960.54C1461.98 960.46 1463.68 960.43 1465.38 960.46C1467.08 960.5 1468.78 960.59 1470.49 960.74C1472.19 960.89 1473.89 961.1 1475.59 961.37C1477.29 961.64 1478.99 961.98 1480.69 962.38C1482.4 962.78 1484.1 963.25 1485.8 963.78C1487.5 964.32 1489.2 964.92 1490.9 965.59C1492.6 966.27 1494.31 967.01 1496.01 967.84C1497.71 968.66 1499.41 969.55 1501.11 970.52C1502.81 971.5 1504.51 972.54 1506.22 973.68C1507.92 974.81 1509.62 976.02 1511.32 977.32C1513.02 978.61 1514.72 979.99 1516.42 981.46C1518.13 982.93 1519.83 984.48 1521.53 986.13C1523.23 987.78 1524.93 989.52 1526.63 991.35C1528.33 993.19 1530.03 995.12 1531.74 997.15C1533.44 999.18 1535.14 1001.3 1536.84 1003.53C1538.54 1005.76 1540.24 1008.1 1541.94 1010.54C1543.65 1012.98 1545.35 1015.53 1547.05 1018.19C1548.75 1020.85 1550.45 1023.62 1552.15 1026.5C1553.85 1029.39 1555.56 1032.39 1557.26 1035.52C1558.96 1038.64 1560.66 1041.88 1562.36 1045.25C1564.06 1048.62 1565.76 1052.11 1567.47 1055.74C1569.17 1059.36 1570.87 1063.11 1572.57 1067C1574.27 1070.9 1575.97 1074.92 1577.67 1079.08C1579.38 1083.25 1581.08 1087.55 1582.78 1092C1584.48 1096.46 1586.18 1101.05 1587.88 1105.8C1589.58 1110.55 1591.29 1115.45 1592.99 1120.51C1594.69 1125.57 1596.39 1130.78 1598.09 1136.16C1599.79 1141.54 1601.49 1147.08 1603.2 1152.79C1604.9 1158.51 1606.6 1164.38 1608.3 1170.44C1610 1176.5 1611.7 1182.74 1613.4 1189.16C1615.11 1195.58 1616.81 1202.17 1618.51 1208.97C1620.21 1215.76 1621.91 1222.74 1623.61 1229.92C1625.31 1237.11 1627.02 1244.48 1628.72 1252.07C1630.42 1259.65 1632.12 1267.44 1633.82 1275.44C1635.52 1283.45 1637.22 1291.66 1638.93 1300.1C1640.63 1308.54 1642.33 1317.19 1644.03 1326.08C1645.73 1334.98 1647.43 1344.09 1649.13 1353.45C1650.84 1362.81 1652.54 1372.41 1654.24 1382.26C1655.94 1392.1 1657.64 1402.19 1659.34 1412.55C1661.04 1422.91 1662.75 1433.51 1664.45 1444.39C1666.15 1455.27 1668.7 1472.27 1669.55 1477.84" stroke="#f00" stroke-width="4.0" stroke-dasharray="14.8 6.4" stroke-dashoffset="-7.2" fill="none"/>
<path d="M1026.42 1161.99C1027.27 1161.33 1029.82 1159.36 1031.52 1158.04C1033.22 1156.73 1034.92 1155.42 1036.62 1154.1C1038.33 1152.79 1040.03 1151.48 1041.73 1150.17C1043.43 1148.85 1045.13 1147.54 1046.83 1146.23C1048.53 1144.92 1050.24 1143.61 1051.94 1142.3C1053.64 1140.99 1055.34 1139.68 1057.04 1138.37C1058.74 1137.06 1060.44 1135.76 1062.15 1134.45C1063.85 1133.14 1065.55 1131.83 1067.25 1130.53C1068.95 1129.22 1070.65 1127.92 1072.35 1126.61C1074.06 1125.31 1075.76 1124 1077.46 1122.7C1079.16 1121.4 1080.86 1120.1 1082.56 1118.79C1084.26 1117.49 1085.97 1116.19 1087.67 1114.89C1089.37 1113.59 1091.07 1112.29 1092.77 1110.99C1094.47 1109.69 1096.17 1108.4 1097.88 1107.1C1099.58 1105.8 1101.28 1104.51 1102.98 1103.21C1104.68 1101.92 1106.38 1100.62 1108.08 1099.33C1109.79 1098.04 1111.49 1096.74 1113.19 1095.45C1114.89 1094.16 1116.59 1092.87 1118.29 1091.58C1119.99 1090.29 1121.7 1089 1123.4 1087.71C1125.1 1086.43 1126.8 1085.14 1128.5 1083.85C1130.2 1082.57 1131.9 1081.28 1133.61 1080C1135.31 1078.72 1137.01 1077.44 1138.71 1076.16C1140.41 1074.87 1142.11 1073.59 1143.81 1072.32C1145.52 1071.04 1147.22 1069.76 1148.92 1068.48C1150.62 1067.21 1152.32 1065.93 1154.02 1064.66C1155.72 1063.38 1157.43 1062.11 1159.13 1060.84C1160.83 1059.57 1162.53 1058.3 1164.23 1057.03C1165.93 1055.76 1167.63 1054.5 1169.34 1053.23C1171.04 1051.96 1172.74 1050.7 1174.44 1049.44C1176.14 1048.17 1177.84 1046.91 1179.54 1045.65C1181.24 1044.39 1182.95 1043.14 1184.65 1041.88C1186.35 1040.62 1188.05 1039.37 1189.75 1038.11C1191.45 1036.86 1193.15 1035.61 1194.86 1034.36C1196.56 1033.11 1198.26 1031.86 1199.96 1030.62C1201.66 1029.37 1203.36 1028.13 1205.06 1026.88C1206.77 1025.64 1208.47 1024.4 1210.17 1023.16C1211.87 1021.92 1213.57 1020.69 1215.27 1019.45C1216.97 1018.22 1218.68 1016.98 1220.38 1015.75C1222.08 1014.52 1223.78 1013.29 1225.48 1012.07C1227.18 1010.84 1228.88 1009.62 1230.59 1008.4C1232.29 1007.17 1233.99 1005.95 1235.69 1004.74C1237.39 1003.52 1239.09 1002.3 1240.79 1001.09C1242.5 999.88 1244.2 998.67 1245.9 997.46C1247.6 996.25 1249.3 995.05 1251 993.85C1252.7 992.65 1254.41 991.45 1256.11 990.25C1257.81 989.05 1259.51 987.86 1261.21 986.67C1262.91 985.48 1264.61 984.29 1266.32 983.1C1268.02 981.92 1269.72 980.73 1271.42 979.55C1273.12 978.37 1274.82 977.2 1276.52 976.03C1278.23 974.85 1279.93 973.68 1281.63 972.52C1283.33 971.35 1285.03 970.19 1286.73 969.03C1288.43 967.87 1290.14 966.71 1291.84 965.56C1293.54 964.4 1295.24 963.25 1296.94 962.11C1298.64 960.96 1300.34 959.82 1302.05 958.68C1303.75 957.55 1305.45 956.41 1307.15 955.28C1308.85 954.15 1310.55 953.02 1312.25 951.9C1313.96 950.78 1315.66 949.66 1317.36 948.55C1319.06 947.44 1320.76 946.33 1322.46 945.22C1324.16 944.12 1325.87 943.02 1327.57 941.92C1329.27 940.83 1330.97 939.74 1332.67 938.65C1334.37 937.56 1336.07 936.48 1337.78 935.41C1339.48 934.33 1341.18 933.26 1342.88 932.19C1344.58 931.13 1346.28 930.07 1347.98 929.01C1349.69 927.96 1351.39 926.91 1353.09 925.86C1354.79 924.82 1356.49 923.78 1358.19 922.75C1359.89 921.72 1361.59 920.69 1363.3 919.67C1365 918.65 1366.7 917.63 1368.4 916.63C1370.1 915.62 1371.8 914.62 1373.5 913.62C1375.21 912.63 1376.91 911.64 1378.61 910.65C1380.31 909.67 1382.01 908.7 1383.71 907.73C1385.41 906.76 1387.12 905.8 1388.82 904.85C1390.52 903.89 1392.22 902.95 1393.92 902.01C1395.62 901.07 1397.32 900.14 1399.03 899.22C1400.73 898.29 1402.43 897.38 1404.13 896.47C1405.83 895.57 1407.53 894.67 1409.23 893.78C1410.94 892.89 1412.64 892.01 1414.34 891.13C1416.04 890.26 1417.74 889.4 1419.44 888.54C1421.14 887.69 1422.85 886.84 1424.55 886.01C1426.25 885.17 1427.95 884.35 1429.65 883.53C1431.35 882.72 1433.05 881.91 1434.76 881.11C1436.46 880.32 1438.16 879.53 1439.86 878.76C1441.56 877.98 1443.26 877.22 1444.96 876.47C1446.67 875.72 1448.37 874.97 1450.07 874.25C1451.77 873.52 1453.47 872.8 1455.17 872.09C1456.87 871.39 1458.58 870.69 1460.28 870.01C1461.98 869.33 1463.68 868.66 1465.38 868C1467.08 867.35 1468.78 866.71 1470.49 866.08C1472.19 865.45 1473.89 864.83 1475.59 864.23C1477.29 863.63 1478.99 863.04 1480.69 862.47C1482.4 861.89 1484.1 861.33 1485.8 860.79C1487.5 860.25 1489.2 859.72 1490.9 859.21C1492.6 858.69 1494.31 858.2 1496.01 857.72C1497.71 857.24 1499.41 856.77 1501.11 856.32C1502.81 855.88 1504.51 855.45 1506.22 855.03C1507.92 854.62 1509.62 854.23 1511.32 853.85C1513.02 853.47 1514.72 853.12 1516.42 852.78C1518.13 852.44 1519.83 852.12 1521.53 851.82C1523.23 851.52 1524.93 851.23 1526.63 850.97C1528.33 850.71 1530.03 850.47 1531.74 850.26C1533.44 850.04 1535.14 849.84 1536.84 849.67C1538.54 849.49 1540.24 849.34 1541.94 849.21C1543.65 849.08 1545.35 848.97 1547.05 848.89C1548.75 848.8 1550.45 848.75 1552.15 848.71C1553.85 848.68 1555.56 848.67 1557.26 848.68C1558.96 848.7 1560.66 848.74 1562.36 848.81C1564.06 848.88 1565.76 848.97 1567.47 849.1C1569.17 849.22 1570.87 849.37 1572.57 849.55C1574.27 849.73 1575.97 849.94 1577.67 850.18C1579.38 850.42 1581.08 850.69 1582.78 850.99C1584.48 851.29 1586.18 851.62 1587.88 851.98C1589.58 852.35 1591.29 852.74 1592.99 853.17C1594.69 853.6 1596.39 854.06 1598.09 854.56C1599.79 855.06 1601.49 855.59 1603.2 856.16C1604.9 856.73 1606.6 857.34 1608.3 857.98C1610 858.63 1611.7 859.3 1613.4 860.03C1615.11 860.75 1616.81 861.5 1618.51 862.3C1620.21 863.1 1621.91 863.94 1623.61 864.83C1625.31 865.71 1627.02 866.63 1628.72 867.6C1630.42 868.57 1632.12 869.58 1633.82 870.64C1635.52 871.7 1637.22 872.8 1638.93 873.95C1640.63 875.11 1642.33 876.3 1644.03 877.55C1645.73 878.8 1647.43 880.09 1649.13 881.44C1650.84 882.79 1652.54 884.19 1654.24 885.64C1655.94 887.09 1657.64 888.59 1659.34 890.15C1661.04 891.71 1662.75 893.33 1664.45 895C1666.15 896.67 1667.85 898.4 1669.55 900.19C1671.25 901.98 1672.95 903.82 1674.66 905.73C1676.36 907.64 1678.06 909.61 1679.76 911.65C1681.46 913.69 1683.16 915.78 1684.86 917.95C1686.57 920.12 1688.27 922.35 1689.97 924.65C1691.67 926.95 1693.37 929.32 1695.07 931.76C1696.77 934.21 1698.47 936.72 1700.18 939.31C1701.88 941.9 1703.58 944.56 1705.28 947.3C1706.98 950.05 1708.68 952.86 1710.38 955.76C1712.09 958.66 1713.79 961.64 1715.49 964.7C1717.19 967.77 1718.89 970.91 1720.59 974.15C1722.29 977.38 1724 980.7 1725.7 984.11C1727.4 987.52 1729.1 991.02 1730.8 994.62C1732.5 998.21 1734.2 1001.9 1735.91 1005.68C1737.61 1009.47 1739.31 1013.35 1741.01 1017.33C1742.71 1021.32 1744.41 1025.4 1746.11 1029.59C1747.82 1033.78 1749.52 1038.08 1751.22 1042.48C1752.92 1046.89 1754.62 1051.4 1756.32 1056.02C1758.02 1060.65 1759.73 1065.39 1761.43 1070.25C1763.13 1075.1 1764.83 1080.07 1766.53 1085.17C1768.23 1090.27 1769.93 1095.49 1771.64 1100.83C1773.34 1106.18 1775.04 1111.65 1776.74 1117.26C1778.44 1122.86 1780.14 1128.6 1781.84 1134.47C1783.55 1140.35 1785.25 1146.35 1786.95 1152.51C1788.65 1158.66 1790.35 1164.95 1792.05 1171.4C1793.75 1177.84 1795.46 1184.43 1797.16 1191.17C1798.86 1197.92 1800.56 1204.81 1802.26 1211.87C1803.96 1218.93 1805.66 1226.14 1807.37 1233.52C1809.07 1240.91 1810.77 1248.45 1812.47 1256.17C1814.17 1263.89 1815.87 1271.78 1817.57 1279.85C1819.28 1287.92 1820.98 1296.16 1822.68 1304.6C1824.38 1313.03 1826.08 1321.65 1827.78 1330.46C1829.48 1339.28 1831.19 1348.28 1832.89 1357.48C1834.59 1366.69 1837.14 1381 1837.99 1385.7" stroke="#0ff" stroke-width="4.0" fill="none"/>
<path d="M1026.42 1160.99C1027.27 1160.33 1029.82 1158.33 1031.52 1157C1033.22 1155.67 1034.92 1154.34 1036.62 1153.01C1038.33 1151.68 1040.03 1150.34 1041.73 1149.01C1043.43 1147.68 1045.13 1146.35 1046.83 1145.02C1048.53 1143.69 1050.24 1142.36 1051.94 1141.03C1053.64 1139.7 1055.34 1138.37 1057.04 1137.04C1058.74 1135.71 1060.44 1134.38 1062.15 1133.05C1063.85 1131.72 1065.55 1130.39 1067.25 1129.06C1068.95 1127.73 1070.65 1126.4 1072.35 1125.07C1074.06 1123.74 1075.76 1122.42 1077.46 1121.09C1079.16 1119.76 1080.86 1118.43 1082.56 1117.1C1084.26 1115.77 1085.97 1114.44 1087.67 1113.11C1089.37 1111.79 1091.07 1110.46 1092.77 1109.13C1094.47 1107.8 1096.17 1106.47 1097.88 1105.15C1099.58 1103.82 1101.28 1102.49 1102.98 1101.16C1104.68 1099.84 1106.38 1098.51 1108.08 1097.18C1109.79 1095.86 1111.49 1094.53 1113.19 1093.2C1114.89 1091.88 1116.59 1090.55 1118.29 1089.22C1119.99 1087.9 1121.7 1086.57 1123.4 1085.24C1125.1 1083.92 1126.8 1082.59 1128.5 1081.27C1130.2 1079.94 1131.9 1078.62 1133.61 1077.29C1135.31 1075.97 1137.01 1074.64 1138.71 1073.32C1140.41 1071.99 1142.11 1070.67 1143.81 1069.35C1145.52 1068.02 1147.22 1066.7 1148.92 1065.38C1150.62 1064.05 1152.32 1062.73 1154.02 1061.41C1155.72 1060.08 1157.43 1058.76 1159.13 1057.44C1160.83 1056.12 1162.53 1054.79 1164.23 1053.47C1165.93 1052.15 1167.63 1050.83 1169.34 1049.51C1171.04 1048.19 1172.74 1046.87 1174.44 1045.55C1176.14 1044.23 1177.84 1042.91 1179.54 1041.59C1181.24 1040.27 1182.95 1038.95 1184.65 1037.64C1186.35 1036.32 1188.05 1035 1189.75 1033.68C1191.45 1032.37 1193.15 1031.05 1194.86 1029.73C1196.56 1028.42 1198.26 1027.1 1199.96 1025.79C1201.66 1024.47 1203.36 1023.16 1205.06 1021.85C1206.77 1020.53 1208.47 1019.22 1210.17 1017.91C1211.87 1016.6 1213.57 1015.29 1215.27 1013.98C1216.97 1012.67 1218.68 1011.36 1220.38 1010.05C1222.08 1008.74 1223.78 1007.43 1225.48 1006.13C1227.18 1004.82 1228.88 1003.51 1230.59 1002.21C1232.29 1000.9 1233.99 999.6 1235.69 998.3C1237.39 997 1239.09 995.7 1240.79 994.4C1242.5 993.1 1244.2 991.8 1245.9 990.5C1247.6 989.2 1249.3 987.91 1251 986.61C1252.7 985.32 1254.41 984.03 1256.11 982.74C1257.81 981.44 1259.51 980.16 1261.21 978.87C1262.91 977.58 1264.61 976.3 1266.32 975.01C1268.02 973.73 1269.72 972.45 1271.42 971.17C1273.12 969.89 1274.82 968.61 1276.52 967.34C1278.23 966.06 1279.93 964.79 1281.63 963.52C1283.33 962.25 1285.03 960.98 1286.73 959.72C1288.43 958.45 1290.14 957.19 1291.84 955.93C1293.54 954.67 1295.24 953.42 1296.94 952.17C1298.64 950.91 1300.34 949.66 1302.05 948.42C1303.75 947.17 1305.45 945.93 1307.15 944.69C1308.85 943.46 1310.55 942.22 1312.25 940.99C1313.96 939.76 1315.66 938.54 1317.36 937.32C1319.06 936.09 1320.76 934.88 1322.46 933.67C1324.16 932.45 1325.87 931.25 1327.57 930.05C1329.27 928.84 1330.97 927.65 1332.67 926.46C1334.37 925.27 1336.07 924.08 1337.78 922.9C1339.48 921.72 1341.18 920.55 1342.88 919.38C1344.58 918.22 1346.28 917.06 1347.98 915.9C1349.69 914.75 1351.39 913.6 1353.09 912.47C1354.79 911.33 1356.49 910.2 1358.19 909.07C1359.89 907.95 1361.59 906.84 1363.3 905.73C1365 904.62 1366.7 903.52 1368.4 902.44C1370.1 901.35 1371.8 900.27 1373.5 899.2C1375.21 898.13 1376.91 897.07 1378.61 896.02C1380.31 894.97 1382.01 893.93 1383.71 892.9C1385.41 891.87 1387.12 890.85 1388.82 889.84C1390.52 888.84 1392.22 887.84 1393.92 886.86C1395.62 885.87 1397.32 884.9 1399.03 883.95C1400.73 882.99 1402.43 882.04 1404.13 881.11C1405.83 880.18 1407.53 879.26 1409.23 878.35C1410.94 877.45 1412.64 876.56 1414.34 875.68C1416.04 874.81 1417.74 873.95 1419.44 873.1C1421.14 872.26 1422.85 871.43 1424.55 870.61C1426.25 869.8 1427.95 869 1429.65 868.22C1431.35 867.44 1433.05 866.67 1434.76 865.92C1436.46 865.17 1438.16 864.44 1439.86 863.73C1441.56 863.02 1443.26 862.32 1444.96 861.64C1446.67 860.97 1448.37 860.31 1450.07 859.67C1451.77 859.03 1453.47 858.41 1455.17 857.81C1456.87 857.2 1458.58 856.62 1460.28 856.06C1461.98 855.49 1463.68 854.95 1465.38 854.42C1467.08 853.9 1468.78 853.4 1470.49 852.91C1472.19 852.43 1473.89 851.96 1475.59 851.52C1477.29 851.07 1478.99 850.65 1480.69 850.24C1482.4 849.84 1484.1 849.46 1485.8 849.09C1487.5 848.73 1489.2 848.39 1490.9 848.06C1492.6 847.74 1494.31 847.44 1496.01 847.16C1497.71 846.87 1499.41 846.61 1501.11 846.37C1502.81 846.12 1504.51 845.9 1506.22 845.7C1507.92 845.49 1509.62 845.31 1511.32 845.15C1513.02 844.98 1514.72 844.84 1516.42 844.71C1518.13 844.59 1519.83 844.48 1521.53 844.39C1523.23 844.31 1524.93 844.24 1526.63 844.19C1528.33 844.14 1530.03 844.11 1531.74 844.09C1533.44 844.08 1535.14 844.09 1536.84 844.11C1538.54 844.14 1540.24 844.18 1541.94 844.24C1543.65 844.3 1545.35 844.39 1547.05 844.48C1548.75 844.58 1550.45 844.7 1552.15 844.84C1553.85 844.98 1555.56 845.13 1557.26 845.31C1558.96 845.48 1560.66 845.68 1562.36 845.89C1564.06 846.11 1565.76 846.35 1567.47 846.6C1569.17 846.86 1570.87 847.14 1572.57 847.44C1574.27 847.74 1575.97 848.06 1577.67 848.41C1579.38 848.75 1581.08 849.12 1582.78 849.52C1584.48 849.91 1586.18 850.33 1587.88 850.78C1589.58 851.22 1591.29 851.69 1592.99 852.19C1594.69 852.69 1596.39 853.22 1598.09 853.78C1599.79 854.34 1601.49 854.92 1603.2 855.54C1604.9 856.16 1606.6 856.81 1608.3 857.5C1610 858.18 1611.7 858.9 1613.4 859.65C1615.11 860.4 1616.81 861.19 1618.51 862.02C1620.21 862.85 1621.91 863.71 1623.61 864.61C1625.31 865.52 1627.02 866.46 1628.72 867.44C1630.42 868.43 1632.12 869.46 1633.82 870.53C1635.52 871.6 1637.22 872.71 1638.93 873.87C1640.63 875.03 1642.33 876.24 1644.03 877.49C1645.73 878.75 1647.43 880.05 1649.13 881.4C1650.84 882.75 1652.54 884.16 1654.24 885.61C1655.94 887.07 1657.64 888.57 1659.34 890.14C1661.04 891.7 1662.75 893.31 1664.45 894.99C1666.15 896.66 1667.85 898.39 1669.55 900.18C1671.25 901.97 1672.95 903.82 1674.66 905.73C1676.36 907.64 1678.06 909.61 1679.76 911.65C1681.46 913.68 1683.16 915.78 1684.86 917.95C1686.57 920.12 1688.27 922.35 1689.97 924.65C1691.67 926.95 1693.37 929.32 1695.07 931.76C1696.77 934.21 1698.47 936.72 1700.18 939.31C1701.88 941.9 1703.58 944.56 1705.28 947.3C1706.98 950.05 1708.68 952.86 1710.38 955.76C1712.09 958.66 1713.79 961.64 1715.49 964.7C1717.19 967.77 1718.89 970.91 1720.59 974.15C1722.29 977.38 1724 980.7 1725.7 984.11C1727.4 987.52 1729.1 991.02 1730.8 994.62C1732.5 998.21 1734.2 1001.9 1735.91 1005.68C1737.61 1009.47 1739.31 1013.35 1741.01 1017.33C1742.71 1021.32 1744.41 1025.4 1746.11 1029.59C1747.82 1033.78 1749.52 1038.08 1751.22 1042.48C1752.92 1046.89 1754.62 1051.4 1756.32 1056.02C1758.02 1060.65 1759.73 1065.39 1761.43 1070.25C1763.13 1075.1 1764.83 1080.07 1766.53 1085.17C1768.23 1090.27 1769.93 1095.49 1771.64 1100.83C1773.34 1106.18 1775.04 1111.65 1776.74 1117.26C1778.44 1122.86 1780.14 1128.6 1781.84 1134.47C1783.55 1140.35 1785.25 1146.35 1786.95 1152.51C1788.65 1158.66 1790.35 1164.95 1792.05 1171.4C1793.75 1177.84 1795.46 1184.43 1797.16 1191.17C1798.86 1197.92 1800.56 1204.81 1802.26 1211.87C1803.96 1218.93 1805.66 1226.14 1807.37 1233.52C1809.07 1240.91 1810.77 1248.45 1812.47 1256.17C1814.17 1263.89 1815.87 1271.78 1817.57 1279.85C1819.28 1287.92 1820.98 1296.16 1822.68 1304.6C1824.38 1313.03 1826.08 1321.65 1827.78 1330.46C1829.48 1339.28 1831.19 1348.28 1832.89 1357.48C1834.59 1366.69 1837.14 1381 1837.99 1385.7" stroke="#000" stroke-width="4.0" stroke-dasharray="14.8 6.4" stroke-dashoffset="4.6" fill="none"/>
<g fill="#00f" fill-opacity="0.33"><circle cx="1083.35" cy="1102.99" r="6.0"/><circle cx="1096.4" cy="1121.48" r="6.0"/><circle cx="1108.41" cy="1086.44" r="6.0"/><circle cx="1120.1" cy="1129.4" r="6.0"/><circle cx="1132.11" cy="1085.74" r="6.0"/><circle cx="1143.38" cy="1088.91" r="6.0"/><circle cx="1154.03" cy="1066.37" r="6.0"/><circle cx="1164.15" cy="1047.54" r="6.0"/><circle cx="1173.97" cy="1041.02" r="6.0"/><circle cx="1183.15" cy="1042.25" r="6.0"/><circle cx="1192.55" cy="1022.01" r="6.0"/><circle cx="1202.05" cy="1013.52" r="6.0"/><circle cx="1211.03" cy="1006.2" r="6.0"/><circle cx="1219.07" cy="1002.48" r="6.0"/><circle cx="1227.31" cy="1014.08" r="6.0"/><circle cx="1235.04" cy="983.66" r="6.0"/><circle cx="1243.08" cy="989.52" r="6.0"/><circle cx="1251.85" cy="1001.35" r="6.0"/><circle cx="1260.51" cy="1001.69" r="6.0"/><circle cx="1268.78" cy="983.66" r="6.0"/><circle cx="1275.46" cy="936.68" r="6.0"/><circle cx="1281.1" cy="943.66" r="6.0"/><circle cx="1286.84" cy="946.25" r="6.0"/><circle cx="1292.48" cy="934.65" r="6.0"/><circle cx="1298.12" cy="955.72" r="6.0"/><circle cx="1303.86" cy="953.8" r="6.0"/><circle cx="1309.81" cy="948.51" r="6.0"/><circle cx="1315.55" cy="929.58" r="6.0"/><circle cx="1321.19" cy="937.46" r="6.0"/><circle cx="1327.03" cy="934.65" r="6.0"/><circle cx="1332.98" cy="915.49" r="6.0"/><circle cx="1338.73" cy="955.72" r="6.0"/><circle cx="1344.36" cy="917.18" r="6.0"/><circle cx="1350" cy="919.44" r="6.0"/><circle cx="1355.53" cy="915.49" r="6.0"/><circle cx="1361.17" cy="899.94" r="6.0"/><circle cx="1366.91" cy="898.03" r="6.0"/><circle cx="1372.24" cy="909.52" r="6.0"/><circle cx="1377.67" cy="882.25" r="6.0"/><circle cx="1382.88" cy="886.58" r="6.0"/><circle cx="1388.1" cy="891.81" r="6.0"/><circle cx="1393.12" cy="892.97" r="6.0"/><circle cx="1398.13" cy="890.06" r="6.0"/><circle cx="1403.03" cy="877.28" r="6.0"/><circle cx="1407.84" cy="881.93" r="6.0"/><circle cx="1412.43" cy="870.89" r="6.0"/><circle cx="1417.02" cy="871.12" r="6.0"/><circle cx="1421.62" cy="882.16" r="6.0"/><circle cx="1426" cy="860.43" r="6.0"/><circle cx="1430.38" cy="861.59" r="6.0"/><circle cx="1434.87" cy="858.11" r="6.0"/><circle cx="1439.26" cy="857.52" r="6.0"/><circle cx="1443.56" cy="849.39" r="6.0"/><circle cx="1447.95" cy="862.52" r="6.0"/><circle cx="1452.23" cy="850.9" r="6.0"/><circle cx="1456.82" cy="846.25" r="6.0"/><circle cx="1460.79" cy="863.34" r="6.0"/><circle cx="1465.07" cy="861.01" r="6.0"/><circle cx="1469.14" cy="861.59" r="6.0"/><circle cx="1473.31" cy="858.11" r="6.0"/><circle cx="1477.8" cy="847.88" r="6.0"/><circle cx="1481.77" cy="829.98" r="6.0"/><circle cx="1486.05" cy="849.97" r="6.0"/><circle cx="1490.12" cy="866.47" r="6.0"/><circle cx="1494.3" cy="869.15" r="6.0"/><circle cx="1498.37" cy="900.17" r="6.0"/><circle cx="1502.54" cy="834.05" r="6.0"/><circle cx="1506.62" cy="862.41" r="6.0"/><circle cx="1510.79" cy="842.77" r="6.0"/><circle cx="1514.97" cy="846.48" r="6.0"/><circle cx="1518.93" cy="876.12" r="6.0"/><circle cx="1523.01" cy="838.93" r="6.0"/><circle cx="1527.08" cy="830.45" r="6.0"/><circle cx="1531.04" cy="873.79" r="6.0"/><circle cx="1535.12" cy="832.89" r="6.0"/><circle cx="1539.08" cy="844.16" r="6.0"/><circle cx="1543.15" cy="847.88" r="6.0"/><circle cx="1547.12" cy="853.81" r="6.0"/><circle cx="1551.19" cy="866.24" r="6.0"/><circle cx="1555.16" cy="862.41" r="6.0"/><circle cx="1559.13" cy="844.16" r="6.0"/><circle cx="1563.09" cy="882.86" r="6.0"/><circle cx="1567.17" cy="840.09" r="6.0"/><circle cx="1571.13" cy="862.75" r="6.0"/><circle cx="1575.1" cy="820.92" r="6.0"/><circle cx="1579.07" cy="825.33" r="6.0"/></g>
<g fill="#ffa500" fill-opacity="0.33"><circle cx="1548.79" cy="836.69" r="6.0"/><circle cx="1564.66" cy="827.08" r="6.0"/><circle cx="1578.96" cy="825.54" r="6.0"/><circle cx="1591.7" cy="835.92" r="6.0"/><circle cx="1603.39" cy="854.97" r="6.0"/><circle cx="1614.04" cy="870.47" r="6.0"/><circle cx="1623.91" cy="853.27" r="6.0"/><circle cx="1633.02" cy="875.42" r="6.0"/><circle cx="1641.56" cy="865.35" r="6.0"/><circle cx="1649.52" cy="812.99" r="6.0"/><circle cx="1658.29" cy="1156.3" r="6.0"/><circle cx="1667.64" cy="892" r="6.0"/><circle cx="1676.29" cy="879.76" r="6.0"/><circle cx="1706.4" cy="876.62" r="6.0"/><circle cx="1719.21" cy="864.79" r="6.0"/><circle cx="1756.25" cy="915.49" r="6.0"/><circle cx="1762.36" cy="843.66" r="6.0"/><circle cx="1768.02" cy="899.94" r="6.0"/><circle cx="1773.67" cy="900.62" r="6.0"/><circle cx="1784.75" cy="774.87" r="6.0"/><circle cx="1790.86" cy="940" r="6.0"/><circle cx="1801.59" cy="787.89" r="6.0"/><circle cx="1806.9" cy="814.42" r="6.0"/><circle cx="1818.9" cy="816.6" r="6.0"/></g>
</g>
<path d="M1076.4 763H1819.65M1076.4 1353H1819.65" stroke="#7a7a7a" stroke-width="2.0" fill="none"/>
<path d="M1077 762V1354" stroke="#2d2d2d" stroke-width="1.3"/>
<path d="M1819.2 762V1354" stroke="#7a7a7a" stroke-width="2.0"/>
<path d="M1077 763h-5.3M1077 910.5h-5.3M1077 1058h-5.3M1077 1205.5h-5.3M1077 1353h-5.3M1106.8 1353v5.3M1416.4 1353v5.3M1726 1353v5.3" stroke="#333" stroke-width="1.2" fill="none"/>
<path d="M1076.8 1353v3.1M1092.63 1353v3.1M1200 1353v3.1M1254.52 1353v3.1M1293.2 1353v3.1M1323.2 1353v3.1M1347.72 1353v3.1M1368.44 1353v3.1M1386.4 1353v3.1M1402.23 1353v3.1M1509.6 1353v3.1M1564.12 1353v3.1M1602.8 1353v3.1M1632.8 1353v3.1M1657.32 1353v3.1M1678.04 1353v3.1M1696 1353v3.1M1711.83 1353v3.1M1819.2 1353v3.1M1077 866.1h-3.1M1077 840.12h-3.1M1077 821.7h-3.1M1077 807.4h-3.1M1077 795.72h-3.1M1077 785.85h-3.1M1077 777.29h-3.1M1077 769.75h-3.1M1077 1013.6h-3.1M1077 987.62h-3.1M1077 969.2h-3.1M1077 954.9h-3.1M1077 943.22h-3.1M1077 933.35h-3.1M1077 924.79h-3.1M1077 917.25h-3.1M1077 1161.1h-3.1M1077 1135.12h-3.1M1077 1116.7h-3.1M1077 1102.4h-3.1M1077 1090.72h-3.1M1077 1080.85h-3.1M1077 1072.29h-3.1M1077 1064.75h-3.1M1077 1308.6h-3.1M1077 1282.62h-3.1M1077 1264.2h-3.1M1077 1249.9h-3.1M1077 1238.22h-3.1M1077 1228.35h-3.1M1077 1219.79h-3.1M1077 1212.25h-3.1" stroke="#333" stroke-width="1.0" fill="none"/>
<g class="sn">
<text x="1065.8" y="772.7" font-size="26.7" text-anchor="end">10<tspan font-size="18.69" dy="-10.68" dx="0">3</tspan></text>
<text x="1065.8" y="920.2" font-size="26.7" text-anchor="end">10<tspan font-size="18.69" dy="-10.68" dx="0">2</tspan></text>
<text x="1065.8" y="1067.7" font-size="26.7" text-anchor="end">10<tspan font-size="18.69" dy="-10.68" dx="0">1</tspan></text>
<text x="1065.8" y="1215.2" font-size="26.7" text-anchor="end">10<tspan font-size="18.69" dy="-10.68" dx="0">0</tspan></text>
<text x="1066.8" y="1362.7" font-size="26.7" text-anchor="end">10<tspan font-size="18.69" dy="-10.68" dx="0">−<tspan dx="0">1</tspan></tspan></text>
<text x="1106.3" y="1382.6" font-size="26.7" text-anchor="middle">10<tspan font-size="18.69" dy="-10.68" dx="0">1</tspan></text>
<text x="1415.9" y="1382.6" font-size="26.7" text-anchor="middle">10<tspan font-size="18.69" dy="-10.68" dx="0">2</tspan></text>
<text x="1725.5" y="1382.6" font-size="26.7" text-anchor="middle">10<tspan font-size="18.69" dy="-10.68" dx="0">3</tspan></text>
<text x="1448.33" y="1414" font-size="26.7" text-anchor="middle">Energy(keV)</text>
<text transform="translate(992 1058.5) rotate(-90)" font-size="26.7" text-anchor="middle">keV<tspan font-size="18.69" dy="-10.15">2</tspan><tspan dy="10.15"> (photons cm</tspan><tspan font-size="18.69" dy="-10.15">−2</tspan><tspan dy="10.15"> </tspan><tspan font-style="italic">s</tspan><tspan font-size="18.69" dy="-10.15">−1</tspan><tspan dy="10.15">keV</tspan><tspan font-size="18.69" dy="-10.15">−1</tspan><tspan dy="10.15">)</tspan></text>
</g>
<text class="sf" transform="translate(1391.92 746) scale(1.2005 1)" font-size="31">BB</text>
<text class="sn" transform="translate(1439.63 749) scale(1.0029 1)" font-size="35.8" font-weight="200">+</text>
<text class="sf" transform="translate(1468.44 746) scale(1.1648 1)" font-size="31">BAND</text>
<rect x="1332.4" y="1137" width="231.3" height="202.2" rx="4" ry="4" fill="#fff" fill-opacity="0.8" stroke="#cfcfcf" stroke-width="1.4"/>
<path d="M1342.8 1158H1396.2" stroke="#f00" stroke-width="4.0" stroke-dasharray="14.8 6.4"/>
<text x="1417.2" y="1167.5" font-size="26.7" class="sn">BB</text>
<path d="M1342.8 1197H1396.2" stroke="#0ff" stroke-width="4.0" stroke-linecap="square"/>
<text x="1417.2" y="1206.5" font-size="26.7" class="sn">BAND</text>
<path d="M1342.8 1236H1396.2" stroke="#000" stroke-width="4.0" stroke-dasharray="14.8 6.4"/>
<text x="1417.2" y="1245.5" font-size="26.7" class="sn">BB+BAND</text>
<path d="M1369.5 1261.5V1288.5M1356 1275H1383" stroke="#00f" stroke-opacity="0.33" stroke-width="2.1"/>
<circle cx="1369.5" cy="1275" r="6.0" fill="#00f" fill-opacity="0.33"/>
<text x="1417.2" y="1284.5" font-size="26.7" class="sn">GBMn4</text>
<path d="M1369.5 1300.5V1327.5M1356 1314H1383" stroke="#ffa500" stroke-opacity="0.33" stroke-width="2.1"/>
<circle cx="1369.5" cy="1314" r="6.0" fill="#ffa500" fill-opacity="0.33"/>
<text x="1417.2" y="1323.5" font-size="26.7" class="sn">GBMb0</text>
<text class="sf" transform="translate(1244.84 1064.8) scale(0.8377 1)" font-size="36.5">(</text>
<text class="sf" transform="translate(1256.08 1064.3) scale(1.1200 1)" font-size="32">d</text>
<text class="sf" transform="translate(1274.1 1064.8) scale(0.8767 1)" font-size="36.5">)</text>
<text class="sf" transform="translate(1299.01 1064.3) scale(1.0109 1)" font-size="34.6">G</text>
<text class="sf" transform="translate(1325.91 1064.3) scale(1.0922 1)" font-size="34.6">R</text>
<text class="sf" transform="translate(1352.36 1064.3) scale(1.0007 1)" font-size="34.6">B</text>
<text class="sf" transform="translate(1387.52 1064.3) scale(1.0349 1)" font-size="33.4">221022</text>
<text class="sf" transform="translate(1492.06 1064.3) scale(1.0055 1)" font-size="34.6">B</text>
<text class="sf" transform="translate(1315.8 1139.2) scale(1.2486 1)" font-size="34.6" font-style="italic">T</text>
<text class="sf" transform="translate(1337.84 1143.8) scale(1.1732 1)" font-size="23.38">0</text>
<text class="sn" transform="translate(1359.19 1142.2) scale(1.0159 1)" font-size="35.8" font-weight="200">+</text>
<text class="sf" transform="translate(1397.18 1142) scale(0.5990 1)" font-size="40.6">[</text>
<text class="sn" transform="translate(1403.71 1141.9) scale(0.9811 1)" font-size="35.8" font-weight="200">−</text>
<text class="sf" transform="translate(1432.28 1139.2) scale(1.0716 1)" font-size="33.4">2</text>
<text class="sf" transform="translate(1450.4 1139.2) scale(0.9249 1)" font-size="34.6">,</text>
<text class="sf" transform="translate(1465.13 1139.2) scale(1.0251 1)" font-size="33.4">20</text>
<text class="sf" transform="translate(1499.01 1142) scale(0.5465 1)" font-size="40.6">]</text>
<text class="sf" transform="translate(1519.7 1139.2) scale(1.1048 1)" font-size="32">s</text>
</svg></body></html>
